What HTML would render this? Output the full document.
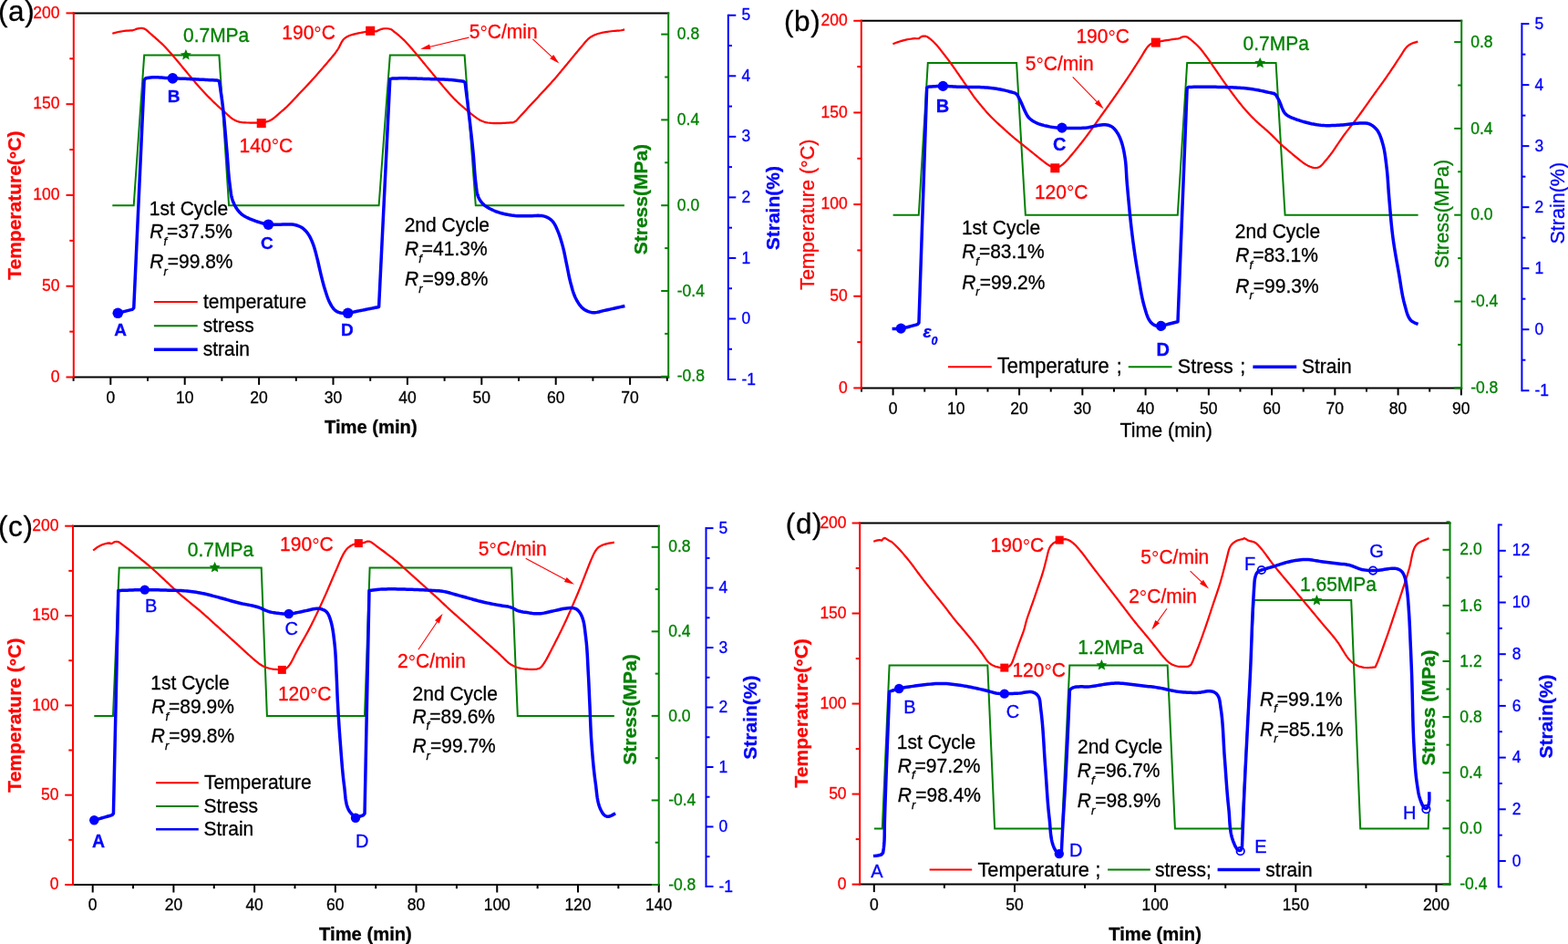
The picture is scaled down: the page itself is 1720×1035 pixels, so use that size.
<!DOCTYPE html>
<html><head><meta charset="utf-8"><title>Shape memory cycles</title>
<style>html,body{margin:0;padding:0;background:#fff;}svg{display:block;}text{font-family:"Liberation Sans", Arial, sans-serif;}</style>
</head><body>
<svg width="1720" height="1035" viewBox="0 0 1720 1035">
<rect width="1720" height="1035" fill="#fff"/>
<line x1="80.8" y1="14.4" x2="733.2" y2="14.4" stroke="#000000" stroke-width="2" stroke-linecap="square"/>
<line x1="80.8" y1="413.5" x2="733.2" y2="413.5" stroke="#000000" stroke-width="2" stroke-linecap="square"/>
<line x1="80.6" y1="413.5" x2="80.6" y2="417.8" stroke="#000000" stroke-width="2" stroke-linecap="butt"/>
<line x1="121.3" y1="413.5" x2="121.3" y2="421.9" stroke="#000000" stroke-width="2" stroke-linecap="butt"/>
<line x1="162" y1="413.5" x2="162" y2="417.8" stroke="#000000" stroke-width="2" stroke-linecap="butt"/>
<line x1="202.7" y1="413.5" x2="202.7" y2="421.9" stroke="#000000" stroke-width="2" stroke-linecap="butt"/>
<line x1="243.4" y1="413.5" x2="243.4" y2="417.8" stroke="#000000" stroke-width="2" stroke-linecap="butt"/>
<line x1="284.1" y1="413.5" x2="284.1" y2="421.9" stroke="#000000" stroke-width="2" stroke-linecap="butt"/>
<line x1="324.8" y1="413.5" x2="324.8" y2="417.8" stroke="#000000" stroke-width="2" stroke-linecap="butt"/>
<line x1="365.5" y1="413.5" x2="365.5" y2="421.9" stroke="#000000" stroke-width="2" stroke-linecap="butt"/>
<line x1="406.2" y1="413.5" x2="406.2" y2="417.8" stroke="#000000" stroke-width="2" stroke-linecap="butt"/>
<line x1="446.9" y1="413.5" x2="446.9" y2="421.9" stroke="#000000" stroke-width="2" stroke-linecap="butt"/>
<line x1="487.6" y1="413.5" x2="487.6" y2="417.8" stroke="#000000" stroke-width="2" stroke-linecap="butt"/>
<line x1="528.3" y1="413.5" x2="528.3" y2="421.9" stroke="#000000" stroke-width="2" stroke-linecap="butt"/>
<line x1="569" y1="413.5" x2="569" y2="417.8" stroke="#000000" stroke-width="2" stroke-linecap="butt"/>
<line x1="609.7" y1="413.5" x2="609.7" y2="421.9" stroke="#000000" stroke-width="2" stroke-linecap="butt"/>
<line x1="650.4" y1="413.5" x2="650.4" y2="417.8" stroke="#000000" stroke-width="2" stroke-linecap="butt"/>
<line x1="691.1" y1="413.5" x2="691.1" y2="421.9" stroke="#000000" stroke-width="2" stroke-linecap="butt"/>
<line x1="731.8" y1="413.5" x2="731.8" y2="417.8" stroke="#000000" stroke-width="2" stroke-linecap="butt"/>
<text x="121.3" y="441.5" font-size="17.5" fill="#000000" font-weight="normal" font-style="normal" text-anchor="middle" stroke="#000000" stroke-width="0.3">0</text>
<text x="202.7" y="441.5" font-size="17.5" fill="#000000" font-weight="normal" font-style="normal" text-anchor="middle" stroke="#000000" stroke-width="0.3">10</text>
<text x="284.1" y="441.5" font-size="17.5" fill="#000000" font-weight="normal" font-style="normal" text-anchor="middle" stroke="#000000" stroke-width="0.3">20</text>
<text x="365.5" y="441.5" font-size="17.5" fill="#000000" font-weight="normal" font-style="normal" text-anchor="middle" stroke="#000000" stroke-width="0.3">30</text>
<text x="446.9" y="441.5" font-size="17.5" fill="#000000" font-weight="normal" font-style="normal" text-anchor="middle" stroke="#000000" stroke-width="0.3">40</text>
<text x="528.3" y="441.5" font-size="17.5" fill="#000000" font-weight="normal" font-style="normal" text-anchor="middle" stroke="#000000" stroke-width="0.3">50</text>
<text x="609.7" y="441.5" font-size="17.5" fill="#000000" font-weight="normal" font-style="normal" text-anchor="middle" stroke="#000000" stroke-width="0.3">60</text>
<text x="691.1" y="441.5" font-size="17.5" fill="#000000" font-weight="normal" font-style="normal" text-anchor="middle" stroke="#000000" stroke-width="0.3">70</text>
<text x="406.8" y="475.3" font-size="20.2" fill="#000000" font-weight="bold" font-style="normal" text-anchor="middle" stroke="#000000" stroke-width="0.3">Time (min)</text>
<line x1="80.8" y1="14.4" x2="80.8" y2="413.5" stroke="#ff0000" stroke-width="2" stroke-linecap="square"/>
<line x1="80.8" y1="413.5" x2="72.5" y2="413.5" stroke="#ff0000" stroke-width="2" stroke-linecap="butt"/>
<line x1="80.8" y1="363.61" x2="76.3" y2="363.61" stroke="#ff0000" stroke-width="2" stroke-linecap="butt"/>
<line x1="80.8" y1="313.73" x2="72.5" y2="313.73" stroke="#ff0000" stroke-width="2" stroke-linecap="butt"/>
<line x1="80.8" y1="263.84" x2="76.3" y2="263.84" stroke="#ff0000" stroke-width="2" stroke-linecap="butt"/>
<line x1="80.8" y1="213.95" x2="72.5" y2="213.95" stroke="#ff0000" stroke-width="2" stroke-linecap="butt"/>
<line x1="80.8" y1="164.06" x2="76.3" y2="164.06" stroke="#ff0000" stroke-width="2" stroke-linecap="butt"/>
<line x1="80.8" y1="114.18" x2="72.5" y2="114.18" stroke="#ff0000" stroke-width="2" stroke-linecap="butt"/>
<line x1="80.8" y1="64.29" x2="76.3" y2="64.29" stroke="#ff0000" stroke-width="2" stroke-linecap="butt"/>
<line x1="80.8" y1="14.4" x2="72.5" y2="14.4" stroke="#ff0000" stroke-width="2" stroke-linecap="butt"/>
<text x="65.5" y="418.7" font-size="17.5" fill="#ff0000" font-weight="normal" font-style="normal" text-anchor="end" stroke="#ff0000" stroke-width="0.3">0</text>
<text x="65.5" y="318.93" font-size="17.5" fill="#ff0000" font-weight="normal" font-style="normal" text-anchor="end" stroke="#ff0000" stroke-width="0.3">50</text>
<text x="65.5" y="219.15" font-size="17.5" fill="#ff0000" font-weight="normal" font-style="normal" text-anchor="end" stroke="#ff0000" stroke-width="0.3">100</text>
<text x="65.5" y="119.38" font-size="17.5" fill="#ff0000" font-weight="normal" font-style="normal" text-anchor="end" stroke="#ff0000" stroke-width="0.3">150</text>
<text x="65.5" y="19.6" font-size="17.5" fill="#ff0000" font-weight="normal" font-style="normal" text-anchor="end" stroke="#ff0000" stroke-width="0.3">200</text>
<text transform="translate(23.2,225.2) rotate(-90)" x="0" y="0" font-size="21" fill="#ff0000" font-weight="bold" text-anchor="middle" stroke="#ff0000" stroke-width="0.3">Temperature(<tspan dy="1.7">&#176;</tspan><tspan dy="-1.7">C)</tspan></text>
<line x1="733.2" y1="14.4" x2="733.2" y2="413.5" stroke="#008000" stroke-width="2" stroke-linecap="square"/>
<line x1="733.2" y1="412.8" x2="725.2" y2="412.8" stroke="#008000" stroke-width="2" stroke-linecap="butt"/>
<line x1="733.2" y1="365.9" x2="729.2" y2="365.9" stroke="#008000" stroke-width="2" stroke-linecap="butt"/>
<line x1="733.2" y1="319" x2="725.2" y2="319" stroke="#008000" stroke-width="2" stroke-linecap="butt"/>
<line x1="733.2" y1="272.1" x2="729.2" y2="272.1" stroke="#008000" stroke-width="2" stroke-linecap="butt"/>
<line x1="733.2" y1="225.2" x2="725.2" y2="225.2" stroke="#008000" stroke-width="2" stroke-linecap="butt"/>
<line x1="733.2" y1="178.3" x2="729.2" y2="178.3" stroke="#008000" stroke-width="2" stroke-linecap="butt"/>
<line x1="733.2" y1="131.4" x2="725.2" y2="131.4" stroke="#008000" stroke-width="2" stroke-linecap="butt"/>
<line x1="733.2" y1="84.5" x2="729.2" y2="84.5" stroke="#008000" stroke-width="2" stroke-linecap="butt"/>
<line x1="733.2" y1="37.6" x2="725.2" y2="37.6" stroke="#008000" stroke-width="2" stroke-linecap="butt"/>
<text x="742.8" y="43.2" font-size="17.5" fill="#008000" font-weight="normal" font-style="normal" text-anchor="start" stroke="#008000" stroke-width="0.3">0.8</text>
<text x="742.8" y="137" font-size="17.5" fill="#008000" font-weight="normal" font-style="normal" text-anchor="start" stroke="#008000" stroke-width="0.3">0.4</text>
<text x="742.8" y="230.8" font-size="17.5" fill="#008000" font-weight="normal" font-style="normal" text-anchor="start" stroke="#008000" stroke-width="0.3">0.0</text>
<text x="742.8" y="324.6" font-size="17.5" fill="#008000" font-weight="normal" font-style="normal" text-anchor="start" stroke="#008000" stroke-width="0.3">-0.4</text>
<text x="742.8" y="418.4" font-size="17.5" fill="#008000" font-weight="normal" font-style="normal" text-anchor="start" stroke="#008000" stroke-width="0.3">-0.8</text>
<text transform="translate(709.6,218.6) rotate(-90)" x="0" y="0" font-size="21" fill="#008000" font-weight="bold" text-anchor="middle" stroke="#008000" stroke-width="0.3">Stress(MPa)</text>
<line x1="798.8" y1="16.75" x2="798.8" y2="416.05" stroke="#0000ff" stroke-width="2" stroke-linecap="square"/>
<line x1="798.8" y1="416.05" x2="807.3" y2="416.05" stroke="#0000ff" stroke-width="2" stroke-linecap="butt"/>
<line x1="798.8" y1="382.77" x2="803" y2="382.77" stroke="#0000ff" stroke-width="2" stroke-linecap="butt"/>
<line x1="798.8" y1="349.5" x2="807.3" y2="349.5" stroke="#0000ff" stroke-width="2" stroke-linecap="butt"/>
<line x1="798.8" y1="316.23" x2="803" y2="316.23" stroke="#0000ff" stroke-width="2" stroke-linecap="butt"/>
<line x1="798.8" y1="282.95" x2="807.3" y2="282.95" stroke="#0000ff" stroke-width="2" stroke-linecap="butt"/>
<line x1="798.8" y1="249.68" x2="803" y2="249.68" stroke="#0000ff" stroke-width="2" stroke-linecap="butt"/>
<line x1="798.8" y1="216.4" x2="807.3" y2="216.4" stroke="#0000ff" stroke-width="2" stroke-linecap="butt"/>
<line x1="798.8" y1="183.12" x2="803" y2="183.12" stroke="#0000ff" stroke-width="2" stroke-linecap="butt"/>
<line x1="798.8" y1="149.85" x2="807.3" y2="149.85" stroke="#0000ff" stroke-width="2" stroke-linecap="butt"/>
<line x1="798.8" y1="116.58" x2="803" y2="116.58" stroke="#0000ff" stroke-width="2" stroke-linecap="butt"/>
<line x1="798.8" y1="83.3" x2="807.3" y2="83.3" stroke="#0000ff" stroke-width="2" stroke-linecap="butt"/>
<line x1="798.8" y1="50.03" x2="803" y2="50.03" stroke="#0000ff" stroke-width="2" stroke-linecap="butt"/>
<line x1="798.8" y1="16.75" x2="807.3" y2="16.75" stroke="#0000ff" stroke-width="2" stroke-linecap="butt"/>
<text x="813.5" y="421.65" font-size="17.5" fill="#0000ff" font-weight="normal" font-style="normal" text-anchor="start" stroke="#0000ff" stroke-width="0.3">-1</text>
<text x="813.5" y="355.1" font-size="17.5" fill="#0000ff" font-weight="normal" font-style="normal" text-anchor="start" stroke="#0000ff" stroke-width="0.3">0</text>
<text x="813.5" y="288.55" font-size="17.5" fill="#0000ff" font-weight="normal" font-style="normal" text-anchor="start" stroke="#0000ff" stroke-width="0.3">1</text>
<text x="813.5" y="222" font-size="17.5" fill="#0000ff" font-weight="normal" font-style="normal" text-anchor="start" stroke="#0000ff" stroke-width="0.3">2</text>
<text x="813.5" y="155.45" font-size="17.5" fill="#0000ff" font-weight="normal" font-style="normal" text-anchor="start" stroke="#0000ff" stroke-width="0.3">3</text>
<text x="813.5" y="88.9" font-size="17.5" fill="#0000ff" font-weight="normal" font-style="normal" text-anchor="start" stroke="#0000ff" stroke-width="0.3">4</text>
<text x="813.5" y="22.35" font-size="17.5" fill="#0000ff" font-weight="normal" font-style="normal" text-anchor="start" stroke="#0000ff" stroke-width="0.3">5</text>
<text transform="translate(854.6,228.2) rotate(-90)" x="0" y="0" font-size="21" fill="#0000ff" font-weight="bold" text-anchor="middle" stroke="#0000ff" stroke-width="0.3">Strain(%)</text>
<text x="-2" y="23.2" font-size="31.5" fill="#000000" font-weight="normal" font-style="normal" text-anchor="start" letter-spacing="0.6" stroke="#000000" stroke-width="0.3">(a)</text>
<polyline points="123.3,225.2 146.7,225.2 158.2,60.6 240.4,60.6 251.1,225.2 415.6,225.2 427.8,60.6 509.6,60.6 521.8,225.2 684.9,225.2" fill="none" stroke="#008000" stroke-width="2" stroke-linejoin="miter" stroke-miterlimit="10"/>
<path d="M123.3,36.7 L125.53,36.11 L127.76,35.52 L130,35 L132.22,34.59 L134.44,34.24 L136.68,33.93 L138.84,33.7 L140.92,33.54 L143.02,33.4 L145.48,33.29 L147.86,32.52 L150.04,31.62 L152.54,31.06 L155.36,30.77 L157.83,31.32 L160,32.4 L162.01,34.16 L163.39,35.37 L164.95,36.74 L166.55,38.15 L168.15,39.55 L169.74,40.94 L171.31,42.32 L172.87,43.69 L174.43,45.07 L175.96,46.46 L177.47,47.88 L178.95,49.31 L180.39,50.77 L181.8,52.24 L183.19,53.73 L184.56,55.23 L185.91,56.74 L187.26,58.27 L188.6,59.8 L189.92,61.33 L191.24,62.86 L192.55,64.4 L193.85,65.93 L195.15,67.48 L196.43,69.02 L197.71,70.57 L198.99,72.12 L200.28,73.68 L201.56,75.23 L202.84,76.77 L204.13,78.32 L205.41,79.87 L206.69,81.42 L207.97,82.97 L209.26,84.52 L210.55,86.06 L211.85,87.6 L213.16,89.13 L214.47,90.66 L215.8,92.19 L217.13,93.71 L218.48,95.22 L219.83,96.73 L221.18,98.24 L222.55,99.73 L223.93,101.22 L225.32,102.7 L226.73,104.18 L228.15,105.65 L229.59,107.11 L231.03,108.57 L232.49,110.01 L233.95,111.45 L235.43,112.88 L236.92,114.3 L238.43,115.71 L239.96,117.11 L241.5,118.51 L243.04,119.89 L244.6,121.27 L246.16,122.66 L247.72,124.05 L249.29,125.46 L250.86,126.88 L252.45,128.29 L254.1,129.62 L255.83,130.82 L257.66,131.85 L259.58,132.69 L261.57,133.34 L263.6,133.81 L265.66,134.13 L267.72,134.32 L269.8,134.43 L271.89,134.49 L273.99,134.54 L276.12,134.59 L278.25,134.63 L280.39,134.65 L282.54,134.63 L284.71,134.55 L286.91,134.4 L289.13,134.14 L291.34,133.75 L293.46,133.18 L295.45,132.43 L297.31,131.52 L299.05,130.45 L300.7,129.25 L302.27,127.96 L303.79,126.6 L305.31,125.23 L306.85,123.86 L308.42,122.52 L310.02,121.18 L311.6,119.83 L313.15,118.44 L314.68,117.01 L316.16,115.54 L317.63,114.04 L319.07,112.52 L320.51,111 L321.94,109.46 L323.37,107.93 L324.81,106.4 L326.26,104.88 L327.71,103.36 L329.17,101.84 L330.62,100.32 L332.07,98.79 L333.51,97.27 L334.95,95.74 L336.36,94.23 L337.76,92.72 L339.15,91.21 L340.52,89.71 L341.89,88.21 L343.26,86.7 L344.62,85.19 L345.97,83.67 L347.33,82.15 L348.69,80.61 L350.05,79.07 L351.42,77.52 L352.78,75.96 L354.13,74.4 L355.48,72.83 L356.83,71.26 L358.17,69.68 L359.5,68.1 L360.84,66.53 L362.17,64.95 L363.51,63.37 L364.83,61.79 L366.14,60.19 L367.43,58.58 L368.67,56.93 L369.86,55.24 L370.97,53.5 L371.99,51.68 L372.92,49.81 L373.83,47.92 L374.8,46.07 L375.93,44.32 L377.29,42.75 L378.91,41.38 L380.75,40.23 L382.73,39.29 L384.78,38.52 L386.86,37.89 L388.97,37.35 L391.08,36.88 L393.17,36.43 L395.23,36.01 L397.25,35.6 L399.24,35.21 L401.18,34.84 L402.98,34.5 L404.46,34.23 L407.47,34.04 L410.02,34.31 L412.86,34.44 L415.02,33.22 L417.47,32.22 L419.49,31.62 L421.9,31.25 L424.37,31.25 L426.53,31.52 L429.1,32.2 L431.03,33.73 L432.36,34.78 L433.87,35.97 L435.44,37.21 L437,38.47 L438.55,39.76 L440.07,41.09 L441.56,42.45 L443.01,43.85 L444.43,45.29 L445.82,46.76 L447.19,48.25 L448.54,49.76 L449.88,51.28 L451.21,52.81 L452.53,54.33 L453.85,55.86 L455.16,57.39 L456.46,58.93 L457.75,60.47 L459.04,62.02 L460.32,63.57 L461.6,65.12 L462.88,66.67 L464.16,68.23 L465.45,69.78 L466.74,71.33 L468.02,72.89 L469.31,74.44 L470.6,76 L471.89,77.56 L473.18,79.11 L474.46,80.67 L475.75,82.22 L477.04,83.77 L478.32,85.33 L479.6,86.88 L480.88,88.43 L482.17,89.98 L483.45,91.53 L484.74,93.07 L486.04,94.6 L487.35,96.13 L488.67,97.66 L489.99,99.18 L491.31,100.7 L492.65,102.21 L493.99,103.72 L495.34,105.21 L496.72,106.69 L498.12,108.15 L499.56,109.6 L501.02,111.03 L502.53,112.45 L504.05,113.86 L505.6,115.24 L507.16,116.61 L508.74,117.98 L510.32,119.34 L511.93,120.7 L513.54,122.06 L515.17,123.42 L516.81,124.77 L518.47,126.09 L520.14,127.38 L521.84,128.63 L523.54,129.81 L525.27,130.93 L527.04,131.94 L528.88,132.81 L530.8,133.53 L532.8,134.07 L534.86,134.48 L536.95,134.76 L539.05,134.96 L541.17,135.09 L543.29,135.16 L545.42,135.17 L547.55,135.13 L549.67,135.06 L551.79,134.96 L553.89,134.85 L555.95,134.72 L557.98,134.58 L559.94,134.43 L561.76,134.28 L563.25,134.15 L566.24,132.53 L567.45,131.11 L568.88,129.48 L570.33,127.87 L571.77,126.29 L573.2,124.74 L574.61,123.2 L576.02,121.67 L577.43,120.14 L578.85,118.61 L580.26,117.08 L581.67,115.55 L583.09,114.03 L584.5,112.5 L585.92,110.97 L587.35,109.44 L588.77,107.91 L590.2,106.39 L591.62,104.86 L593.05,103.33 L594.47,101.8 L595.9,100.26 L597.32,98.72 L598.75,97.17 L600.19,95.61 L601.62,94.06 L603.05,92.5 L604.47,90.93 L605.89,89.36 L607.29,87.78 L608.68,86.2 L610.06,84.61 L611.42,83.01 L612.78,81.4 L614.12,79.79 L615.46,78.17 L616.79,76.56 L618.13,74.94 L619.46,73.32 L620.8,71.7 L622.13,70.09 L623.47,68.48 L624.8,66.87 L626.13,65.26 L627.46,63.64 L628.8,62.03 L630.13,60.42 L631.46,58.82 L632.78,57.22 L634.1,55.64 L635.41,54.07 L636.72,52.5 L638.03,50.93 L639.36,49.34 L640.7,47.72 L642.07,46.08 L643.49,44.47 L644.98,42.96 L646.56,41.61 L648.24,40.43 L650,39.39 L651.85,38.49 L653.79,37.7 L655.82,37.02 L657.9,36.45 L660.02,35.95 L662.15,35.52 L664.28,35.13 L666.39,34.79 L668.5,34.49 L670.61,34.23 L672.74,34.01 L674.9,33.83 L677.11,33.69 L679.35,33.53 L681.51,33.25 L683.31,32.84 L685.1,32.2" fill="none" stroke="#ff0000" stroke-width="2.2" stroke-linejoin="round" stroke-linecap="butt"/>
<path d="M128,343.6 L130.12,343.07 L131.95,342.61 L133.91,342.12 L135.87,341.62 L137.84,341.13 L139.81,340.63 L141.78,340.14 L143.69,339.66 L145.34,339.24 L146.76,337.52 L146.84,335.84 L146.93,333.89 L147.02,331.89 L147.11,329.89 L147.2,327.88 L147.29,325.88 L147.38,323.88 L147.48,321.87 L147.57,319.87 L147.66,317.87 L147.75,315.86 L147.84,313.86 L147.93,311.86 L148.02,309.85 L148.11,307.85 L148.21,305.85 L148.3,303.84 L148.39,301.84 L148.48,299.84 L148.57,297.83 L148.66,295.83 L148.75,293.83 L148.84,291.83 L148.94,289.82 L149.03,287.82 L149.12,285.82 L149.21,283.81 L149.3,281.81 L149.39,279.81 L149.48,277.8 L149.57,275.8 L149.67,273.8 L149.76,271.79 L149.85,269.79 L149.94,267.79 L150.03,265.78 L150.12,263.78 L150.21,261.78 L150.31,259.77 L150.4,257.77 L150.49,255.77 L150.58,253.77 L150.67,251.76 L150.76,249.76 L150.85,247.76 L150.94,245.75 L151.04,243.75 L151.13,241.75 L151.22,239.74 L151.31,237.74 L151.4,235.74 L151.49,233.73 L151.58,231.73 L151.67,229.73 L151.77,227.72 L151.86,225.72 L151.95,223.72 L152.04,221.71 L152.13,219.71 L152.22,217.71 L152.31,215.7 L152.4,213.7 L152.5,211.7 L152.59,209.7 L152.68,207.69 L152.77,205.69 L152.86,203.69 L152.95,201.68 L153.04,199.68 L153.13,197.68 L153.23,195.67 L153.32,193.67 L153.41,191.67 L153.5,189.66 L153.59,187.66 L153.68,185.66 L153.77,183.65 L153.86,181.65 L153.96,179.65 L154.05,177.64 L154.14,175.64 L154.23,173.64 L154.32,171.63 L154.41,169.63 L154.5,167.63 L154.59,165.63 L154.69,163.62 L154.78,161.62 L154.87,159.62 L154.96,157.61 L155.05,155.61 L155.14,153.61 L155.23,151.6 L155.32,149.6 L155.42,147.6 L155.51,145.59 L155.6,143.59 L155.69,141.59 L155.78,139.58 L155.87,137.58 L155.96,135.58 L156.06,133.57 L156.15,131.57 L156.24,129.57 L156.33,127.57 L156.42,125.56 L156.51,123.56 L156.6,121.56 L156.69,119.55 L156.79,117.55 L156.88,115.55 L156.97,113.54 L157.06,111.54 L157.15,109.54 L157.24,107.53 L157.33,105.53 L157.42,103.53 L157.52,101.52 L157.61,99.52 L157.7,97.52 L157.79,95.51 L157.88,93.51 L157.97,91.51 L158.06,89.56 L158.14,87.88 L159.62,85.98 L161.3,85.54 L163.23,85.2 L165.21,84.97 L167.2,84.84 L169.2,84.78 L171.21,84.79 L173.23,84.86 L175.25,84.96 L177.27,85.1 L179.3,85.25 L181.32,85.41 L183.35,85.57 L185.37,85.7 L187.39,85.81 L189.4,85.89 L191.4,85.95 L193.4,86.01 L195.4,86.07 L197.4,86.14 L199.4,86.21 L201.41,86.29 L203.41,86.37 L205.41,86.45 L207.41,86.54 L209.41,86.64 L211.41,86.73 L213.41,86.83 L215.4,86.93 L217.4,87.03 L219.4,87.14 L221.4,87.24 L223.4,87.35 L225.4,87.45 L227.4,87.56 L229.4,87.66 L231.4,87.76 L233.4,87.86 L235.4,87.96 L237.35,88.06 L239.02,88.14 L240.6,89.6 L240.85,91.31 L241.13,93.29 L241.43,95.32 L241.73,97.35 L242.03,99.39 L242.33,101.42 L242.63,103.46 L242.92,105.49 L243.21,107.53 L243.49,109.56 L243.76,111.6 L244.02,113.64 L244.27,115.67 L244.51,117.69 L244.74,119.69 L244.95,121.68 L245.16,123.67 L245.37,125.67 L245.57,127.66 L245.76,129.66 L245.95,131.65 L246.14,133.65 L246.32,135.64 L246.5,137.64 L246.68,139.64 L246.85,141.63 L247.02,143.63 L247.19,145.63 L247.36,147.62 L247.53,149.62 L247.7,151.62 L247.87,153.62 L248.03,155.62 L248.2,157.61 L248.38,159.61 L248.55,161.61 L248.72,163.61 L248.9,165.62 L249.07,167.64 L249.24,169.68 L249.4,171.72 L249.55,173.76 L249.7,175.8 L249.85,177.84 L249.99,179.88 L250.14,181.92 L250.29,183.97 L250.44,186.01 L250.6,188.05 L250.77,190.08 L250.95,192.12 L251.14,194.16 L251.35,196.19 L251.57,198.23 L251.81,200.26 L252.07,202.28 L252.33,204.3 L252.58,206.31 L252.83,208.32 L253.09,210.33 L253.38,212.34 L253.73,214.33 L254.16,216.3 L254.67,218.24 L255.31,220.16 L256.07,222.09 L256.95,224.02 L257.94,225.93 L259.02,227.78 L260.22,229.57 L261.51,231.27 L262.92,232.86 L264.44,234.31 L266.04,235.61 L267.73,236.76 L269.51,237.79 L271.35,238.71 L273.24,239.56 L275.16,240.35 L277.1,241.1 L279.05,241.84 L281.02,242.56 L283.02,243.27 L285.05,243.93 L287.1,244.53 L289.17,245.07 L291.25,245.53 L293.34,245.89 L295.43,246.16 L297.5,246.31 L299.58,246.36 L301.66,246.34 L303.75,246.28 L305.83,246.21 L307.91,246.14 L309.98,246.1 L312.04,246.04 L314.08,245.98 L316.12,245.92 L318.16,245.92 L320.19,246.03 L322.22,246.29 L324.26,246.71 L326.28,247.29 L328.25,248.03 L330.14,248.96 L331.91,250.09 L333.55,251.4 L335.07,252.87 L336.46,254.45 L337.73,256.12 L338.88,257.85 L339.92,259.64 L340.85,261.48 L341.72,263.37 L342.52,265.28 L343.27,267.19 L343.97,269.11 L344.61,271.04 L345.21,272.98 L345.76,274.93 L346.29,276.9 L346.79,278.86 L347.3,280.83 L347.8,282.81 L348.29,284.78 L348.77,286.77 L349.23,288.76 L349.68,290.75 L350.13,292.74 L350.57,294.74 L351.02,296.73 L351.49,298.72 L351.96,300.7 L352.45,302.68 L352.94,304.64 L353.43,306.61 L353.94,308.57 L354.45,310.53 L354.98,312.48 L355.53,314.43 L356.11,316.37 L356.71,318.32 L357.34,320.28 L357.98,322.24 L358.64,324.21 L359.33,326.16 L360.07,328.09 L360.88,330 L361.77,331.88 L362.75,333.75 L363.82,335.6 L365.01,337.39 L366.36,339.03 L367.89,340.43 L369.6,341.55 L371.46,342.39 L373.42,342.97 L375.43,343.31 L377.46,343.42 L379.37,343.39 L381.6,343.3 L383.76,342.87 L385.61,342.5 L387.6,342.1 L389.6,341.7 L391.6,341.3 L393.6,340.9 L395.6,340.5 L397.6,340.1 L399.6,339.7 L401.6,339.3 L403.6,338.9 L405.6,338.5 L407.6,338.1 L409.6,337.7 L411.59,337.3 L413.44,336.93 L415.6,336.5 L415.71,334.35 L415.8,332.49 L415.89,330.5 L415.99,328.51 L416.09,326.51 L416.19,324.51 L416.28,322.51 L416.38,320.51 L416.48,318.51 L416.58,316.52 L416.67,314.52 L416.77,312.52 L416.87,310.52 L416.97,308.52 L417.06,306.52 L417.16,304.53 L417.26,302.53 L417.36,300.53 L417.45,298.53 L417.55,296.53 L417.65,294.53 L417.75,292.54 L417.84,290.54 L417.94,288.54 L418.04,286.54 L418.14,284.54 L418.24,282.54 L418.33,280.54 L418.43,278.55 L418.53,276.55 L418.63,274.55 L418.72,272.55 L418.82,270.55 L418.92,268.55 L419.02,266.56 L419.11,264.56 L419.21,262.56 L419.31,260.56 L419.41,258.56 L419.5,256.56 L419.6,254.57 L419.7,252.57 L419.8,250.57 L419.89,248.57 L419.99,246.57 L420.09,244.57 L420.19,242.58 L420.28,240.58 L420.38,238.58 L420.48,236.58 L420.58,234.58 L420.68,232.58 L420.77,230.58 L420.87,228.59 L420.97,226.59 L421.07,224.59 L421.16,222.59 L421.26,220.59 L421.36,218.59 L421.46,216.6 L421.55,214.6 L421.65,212.6 L421.75,210.6 L421.85,208.6 L421.94,206.6 L422.04,204.61 L422.14,202.61 L422.24,200.61 L422.33,198.61 L422.43,196.61 L422.53,194.61 L422.63,192.62 L422.72,190.62 L422.82,188.62 L422.92,186.62 L423.02,184.62 L423.12,182.62 L423.21,180.62 L423.31,178.63 L423.41,176.63 L423.51,174.63 L423.6,172.63 L423.7,170.63 L423.8,168.63 L423.9,166.64 L423.99,164.64 L424.09,162.64 L424.19,160.64 L424.29,158.64 L424.38,156.64 L424.48,154.65 L424.58,152.65 L424.68,150.65 L424.77,148.65 L424.87,146.65 L424.97,144.65 L425.07,142.66 L425.16,140.66 L425.26,138.66 L425.36,136.66 L425.46,134.66 L425.56,132.66 L425.65,130.66 L425.75,128.67 L425.85,126.67 L425.95,124.67 L426.04,122.67 L426.14,120.67 L426.24,118.67 L426.34,116.68 L426.43,114.68 L426.53,112.68 L426.63,110.68 L426.73,108.68 L426.82,106.68 L426.92,104.69 L427.02,102.69 L427.12,100.69 L427.21,98.69 L427.31,96.69 L427.41,94.69 L427.51,92.7 L427.6,90.71 L427.69,88.85 L427.8,86.7 L429.99,86.12 L431.88,86.04 L433.9,85.96 L435.93,85.89 L437.97,85.84 L440.01,85.81 L442.07,85.81 L444.13,85.82 L446.2,85.85 L448.27,85.89 L450.33,85.93 L452.4,85.99 L454.47,86.05 L456.53,86.12 L458.6,86.19 L460.67,86.26 L462.73,86.33 L464.78,86.4 L466.8,86.46 L468.81,86.52 L470.82,86.57 L472.83,86.63 L474.84,86.69 L476.85,86.74 L478.85,86.81 L480.86,86.87 L482.87,86.94 L484.88,87.03 L486.88,87.12 L488.89,87.22 L490.89,87.33 L492.9,87.46 L494.91,87.61 L496.92,87.79 L498.93,87.99 L500.95,88.21 L502.96,88.45 L504.97,88.69 L506.93,88.93 L508.61,89.14 L510.17,90.7 L510.38,92.4 L510.63,94.37 L510.88,96.4 L511.14,98.43 L511.39,100.46 L511.64,102.48 L511.89,104.51 L512.15,106.54 L512.4,108.57 L512.64,110.6 L512.89,112.63 L513.14,114.65 L513.38,116.68 L513.62,118.69 L513.85,120.69 L514.09,122.69 L514.32,124.68 L514.56,126.68 L514.8,128.67 L515.03,130.67 L515.26,132.66 L515.5,134.66 L515.73,136.65 L515.96,138.65 L516.19,140.64 L516.42,142.64 L516.65,144.63 L516.87,146.63 L517.09,148.62 L517.32,150.62 L517.54,152.62 L517.75,154.61 L517.97,156.61 L518.18,158.61 L518.39,160.61 L518.59,162.6 L518.8,164.61 L518.99,166.63 L519.18,168.66 L519.36,170.69 L519.53,172.73 L519.69,174.77 L519.84,176.81 L519.99,178.85 L520.14,180.9 L520.29,182.94 L520.44,184.98 L520.59,187.02 L520.75,189.06 L520.92,191.1 L521.1,193.13 L521.29,195.17 L521.49,197.21 L521.71,199.24 L521.95,201.27 L522.2,203.32 L522.45,205.38 L522.71,207.45 L523.01,209.52 L523.38,211.58 L523.87,213.61 L524.54,215.63 L525.44,217.64 L526.56,219.59 L527.86,221.42 L529.3,223.11 L530.88,224.6 L532.54,225.9 L534.25,227.04 L536,228.08 L537.79,229.03 L539.61,229.93 L541.47,230.75 L543.35,231.52 L545.25,232.24 L547.17,232.89 L549.11,233.49 L551.07,234.03 L553.05,234.51 L555.04,234.94 L557.04,235.33 L559.05,235.67 L561.06,235.98 L563.09,236.24 L565.14,236.47 L567.23,236.65 L569.35,236.76 L571.47,236.81 L573.61,236.81 L575.74,236.8 L577.86,236.8 L579.95,236.78 L582,236.74 L584.03,236.66 L586.05,236.54 L588.07,236.43 L590.08,236.36 L592.08,236.38 L594.06,236.54 L596.02,236.87 L597.94,237.39 L599.82,238.11 L601.63,239.03 L603.33,240.12 L604.9,241.41 L606.32,242.89 L607.58,244.56 L608.68,246.37 L609.65,248.28 L610.53,250.23 L611.37,252.17 L612.17,254.08 L612.92,255.98 L613.62,257.89 L614.29,259.82 L614.91,261.76 L615.51,263.71 L616.09,265.67 L616.65,267.64 L617.19,269.62 L617.71,271.62 L618.21,273.63 L618.67,275.65 L619.11,277.68 L619.54,279.72 L619.95,281.75 L620.36,283.79 L620.76,285.83 L621.18,287.86 L621.6,289.9 L622.02,291.92 L622.42,293.95 L622.82,295.98 L623.22,298 L623.62,300.03 L624.03,302.06 L624.46,304.08 L624.91,306.09 L625.4,308.1 L625.9,310.09 L626.43,312.07 L626.96,314.05 L627.5,316.03 L628.06,317.99 L628.67,319.95 L629.33,321.88 L630.05,323.78 L630.85,325.65 L631.74,327.5 L632.72,329.33 L633.76,331.15 L634.89,332.92 L636.11,334.62 L637.43,336.23 L638.89,337.7 L640.51,339.02 L642.31,340.18 L644.26,341.14 L646.32,341.88 L648.44,342.39 L650.59,342.65 L652.72,342.65 L654.84,342.38 L656.95,341.94 L659.05,341.4 L661.14,340.88 L663.2,340.41 L665.23,339.97 L667.25,339.53 L669.27,339.09 L671.29,338.65 L673.3,338.2 L675.32,337.75 L677.34,337.3 L679.35,336.85 L681.35,336.4 L683.23,335.98 L685.4,335.5" fill="none" stroke="#0000ff" stroke-width="3.5" stroke-linejoin="round" stroke-linecap="butt"/>
<circle cx="129.3" cy="343.3" r="5.8" fill="#0000ff"/>
<circle cx="189.4" cy="85.9" r="5.8" fill="#0000ff"/>
<circle cx="294.4" cy="246.2" r="5.8" fill="#0000ff"/>
<circle cx="381.6" cy="343.3" r="5.8" fill="#0000ff"/>
<rect x="281.7" y="130.1" width="10" height="10" fill="#ff0000"/>
<rect x="401.2" y="28.8" width="10" height="10" fill="#ff0000"/>
<polygon points="203.9,54.1 205.64,58 209.89,58.45 206.72,61.31 207.6,65.5 203.9,63.36 200.2,65.5 201.08,61.31 197.91,58.45 202.16,58" fill="#008000"/>
<text x="132" y="367.8" font-size="19" fill="#0000ff" font-weight="bold" font-style="normal" text-anchor="middle" stroke="#0000ff" stroke-width="0.3">A</text>
<text x="190.5" y="112.2" font-size="19" fill="#0000ff" font-weight="bold" font-style="normal" text-anchor="middle" stroke="#0000ff" stroke-width="0.3">B</text>
<text x="292.9" y="273.3" font-size="19" fill="#0000ff" font-weight="bold" font-style="normal" text-anchor="middle" stroke="#0000ff" stroke-width="0.3">C</text>
<text x="380.8" y="367.8" font-size="19" fill="#0000ff" font-weight="bold" font-style="normal" text-anchor="middle" stroke="#0000ff" stroke-width="0.3">D</text>
<text transform="translate(200.96,46.2) scale(1,1.05)" x="0" y="0" font-size="21" fill="#008000" font-weight="normal" font-style="normal" text-anchor="start" stroke="#008000" stroke-width="0.3">0.7MPa</text>
<text transform="translate(309.31,43.3) scale(1,1.05)" x="0" y="0" font-size="21" fill="#ff0000" font-weight="normal" font-style="normal" text-anchor="start" stroke="#ff0000" stroke-width="0.3">190<tspan dy="1.68" stroke-width="0">&#176;</tspan><tspan dy="-1.68">C</tspan></text>
<text transform="translate(262.61,166.7) scale(1,1.05)" x="0" y="0" font-size="21" fill="#ff0000" font-weight="normal" font-style="normal" text-anchor="start" stroke="#ff0000" stroke-width="0.3">140<tspan dy="1.68" stroke-width="0">&#176;</tspan><tspan dy="-1.68">C</tspan></text>
<text transform="translate(514.76,42.2) scale(1,1.05)" x="0" y="0" font-size="21" fill="#ff0000" font-weight="normal" font-style="normal" text-anchor="start" stroke="#ff0000" stroke-width="0.3">5<tspan dy="1.68" stroke-width="0">&#176;</tspan><tspan dy="-1.68">C/min</tspan></text>
<line x1="514.4" y1="41.1" x2="470.83" y2="51.48" stroke="#ff0000" stroke-width="1.1" stroke-linecap="butt"/>
<polygon points="461.1,53.8 471.13,48.43 472.47,54.07" fill="#ff0000"/>
<line x1="584.4" y1="42.9" x2="605.95" y2="62.81" stroke="#ff0000" stroke-width="1.1" stroke-linecap="butt"/>
<polygon points="613.3,69.6 603.25,64.27 607.19,60.01" fill="#ff0000"/>
<text transform="translate(163.81,235.6) scale(1,1.05)" x="0" y="0" font-size="21" fill="#000000" font-weight="normal" font-style="normal" text-anchor="start" stroke="#000000" stroke-width="0.3">1st Cycle</text>
<text transform="translate(164.26,261.1) scale(1,1.05)" x="0" y="0" font-size="21" fill="#000000" font-weight="normal" font-style="normal" text-anchor="start" stroke="#000000" stroke-width="0.3"><tspan font-style="italic">R</tspan><tspan font-style="italic" font-size="13.02" dy="7.14">f</tspan><tspan dy="-7.14">=37.5%</tspan></text>
<text transform="translate(164.26,294.4) scale(1,1.05)" x="0" y="0" font-size="21" fill="#000000" font-weight="normal" font-style="normal" text-anchor="start" stroke="#000000" stroke-width="0.3"><tspan font-style="italic">R</tspan><tspan font-style="italic" font-size="13.02" dy="7.14">r</tspan><tspan dy="-7.14">=99.8%</tspan></text>
<text transform="translate(443.66,253.8) scale(1,1.05)" x="0" y="0" font-size="21" fill="#000000" font-weight="normal" font-style="normal" text-anchor="start" stroke="#000000" stroke-width="0.3">2nd Cycle</text>
<text transform="translate(444.06,280) scale(1,1.05)" x="0" y="0" font-size="21" fill="#000000" font-weight="normal" font-style="normal" text-anchor="start" stroke="#000000" stroke-width="0.3"><tspan font-style="italic">R</tspan><tspan font-style="italic" font-size="13.02" dy="7.14">f</tspan><tspan dy="-7.14">=41.3%</tspan></text>
<text transform="translate(444.06,313.3) scale(1,1.05)" x="0" y="0" font-size="21" fill="#000000" font-weight="normal" font-style="normal" text-anchor="start" stroke="#000000" stroke-width="0.3"><tspan font-style="italic">R</tspan><tspan font-style="italic" font-size="13.02" dy="7.14">r</tspan><tspan dy="-7.14">=99.8%</tspan></text>
<line x1="168.9" y1="331.1" x2="216.7" y2="331.1" stroke="#ff0000" stroke-width="2" stroke-linecap="butt"/>
<line x1="168.9" y1="357.3" x2="216.7" y2="357.3" stroke="#008000" stroke-width="2" stroke-linecap="butt"/>
<line x1="168.9" y1="383.3" x2="216.7" y2="383.3" stroke="#0000ff" stroke-width="3.5" stroke-linecap="butt"/>
<text transform="translate(222.99,337.8) scale(1,1.05)" x="0" y="0" font-size="21" fill="#000000" font-weight="normal" font-style="normal" text-anchor="start" stroke="#000000" stroke-width="0.3">temperature</text>
<text transform="translate(222.71,364) scale(1,1.05)" x="0" y="0" font-size="21" fill="#000000" font-weight="normal" font-style="normal" text-anchor="start" stroke="#000000" stroke-width="0.3">stress</text>
<text transform="translate(222.71,390) scale(1,1.05)" x="0" y="0" font-size="21" fill="#000000" font-weight="normal" font-style="normal" text-anchor="start" stroke="#000000" stroke-width="0.3">strain</text>
<line x1="944.8" y1="22.8" x2="1603.2" y2="22.8" stroke="#000000" stroke-width="2" stroke-linecap="square"/>
<line x1="944.8" y1="425.4" x2="1603.2" y2="425.4" stroke="#000000" stroke-width="2" stroke-linecap="square"/>
<line x1="944.98" y1="425.4" x2="944.98" y2="429.6" stroke="#000000" stroke-width="2" stroke-linecap="butt"/>
<line x1="979.6" y1="425.4" x2="979.6" y2="433.4" stroke="#000000" stroke-width="2" stroke-linecap="butt"/>
<line x1="1014.23" y1="425.4" x2="1014.23" y2="429.6" stroke="#000000" stroke-width="2" stroke-linecap="butt"/>
<line x1="1048.85" y1="425.4" x2="1048.85" y2="433.4" stroke="#000000" stroke-width="2" stroke-linecap="butt"/>
<line x1="1083.47" y1="425.4" x2="1083.47" y2="429.6" stroke="#000000" stroke-width="2" stroke-linecap="butt"/>
<line x1="1118.1" y1="425.4" x2="1118.1" y2="433.4" stroke="#000000" stroke-width="2" stroke-linecap="butt"/>
<line x1="1152.72" y1="425.4" x2="1152.72" y2="429.6" stroke="#000000" stroke-width="2" stroke-linecap="butt"/>
<line x1="1187.35" y1="425.4" x2="1187.35" y2="433.4" stroke="#000000" stroke-width="2" stroke-linecap="butt"/>
<line x1="1221.97" y1="425.4" x2="1221.97" y2="429.6" stroke="#000000" stroke-width="2" stroke-linecap="butt"/>
<line x1="1256.6" y1="425.4" x2="1256.6" y2="433.4" stroke="#000000" stroke-width="2" stroke-linecap="butt"/>
<line x1="1291.22" y1="425.4" x2="1291.22" y2="429.6" stroke="#000000" stroke-width="2" stroke-linecap="butt"/>
<line x1="1325.85" y1="425.4" x2="1325.85" y2="433.4" stroke="#000000" stroke-width="2" stroke-linecap="butt"/>
<line x1="1360.47" y1="425.4" x2="1360.47" y2="429.6" stroke="#000000" stroke-width="2" stroke-linecap="butt"/>
<line x1="1395.1" y1="425.4" x2="1395.1" y2="433.4" stroke="#000000" stroke-width="2" stroke-linecap="butt"/>
<line x1="1429.72" y1="425.4" x2="1429.72" y2="429.6" stroke="#000000" stroke-width="2" stroke-linecap="butt"/>
<line x1="1464.35" y1="425.4" x2="1464.35" y2="433.4" stroke="#000000" stroke-width="2" stroke-linecap="butt"/>
<line x1="1498.97" y1="425.4" x2="1498.97" y2="429.6" stroke="#000000" stroke-width="2" stroke-linecap="butt"/>
<line x1="1533.6" y1="425.4" x2="1533.6" y2="433.4" stroke="#000000" stroke-width="2" stroke-linecap="butt"/>
<line x1="1568.22" y1="425.4" x2="1568.22" y2="429.6" stroke="#000000" stroke-width="2" stroke-linecap="butt"/>
<line x1="1602.85" y1="425.4" x2="1602.85" y2="433.4" stroke="#000000" stroke-width="2" stroke-linecap="butt"/>
<text x="979.6" y="453.9" font-size="17.5" fill="#000000" font-weight="normal" font-style="normal" text-anchor="middle" stroke="#000000" stroke-width="0.3">0</text>
<text x="1048.85" y="453.9" font-size="17.5" fill="#000000" font-weight="normal" font-style="normal" text-anchor="middle" stroke="#000000" stroke-width="0.3">10</text>
<text x="1118.1" y="453.9" font-size="17.5" fill="#000000" font-weight="normal" font-style="normal" text-anchor="middle" stroke="#000000" stroke-width="0.3">20</text>
<text x="1187.35" y="453.9" font-size="17.5" fill="#000000" font-weight="normal" font-style="normal" text-anchor="middle" stroke="#000000" stroke-width="0.3">30</text>
<text x="1256.6" y="453.9" font-size="17.5" fill="#000000" font-weight="normal" font-style="normal" text-anchor="middle" stroke="#000000" stroke-width="0.3">40</text>
<text x="1325.85" y="453.9" font-size="17.5" fill="#000000" font-weight="normal" font-style="normal" text-anchor="middle" stroke="#000000" stroke-width="0.3">50</text>
<text x="1395.1" y="453.9" font-size="17.5" fill="#000000" font-weight="normal" font-style="normal" text-anchor="middle" stroke="#000000" stroke-width="0.3">60</text>
<text x="1464.35" y="453.9" font-size="17.5" fill="#000000" font-weight="normal" font-style="normal" text-anchor="middle" stroke="#000000" stroke-width="0.3">70</text>
<text x="1533.6" y="453.9" font-size="17.5" fill="#000000" font-weight="normal" font-style="normal" text-anchor="middle" stroke="#000000" stroke-width="0.3">80</text>
<text x="1602.85" y="453.9" font-size="17.5" fill="#000000" font-weight="normal" font-style="normal" text-anchor="middle" stroke="#000000" stroke-width="0.3">90</text>
<text x="1279.15" y="479.1" font-size="21.4" fill="#000000" font-weight="normal" font-style="normal" text-anchor="middle" stroke="#000000" stroke-width="0.3">Time (min)</text>
<line x1="944.8" y1="22.8" x2="944.8" y2="425.4" stroke="#ff0000" stroke-width="2" stroke-linecap="square"/>
<line x1="944.8" y1="425.4" x2="936.3" y2="425.4" stroke="#ff0000" stroke-width="2" stroke-linecap="butt"/>
<line x1="944.8" y1="375.07" x2="940.3" y2="375.07" stroke="#ff0000" stroke-width="2" stroke-linecap="butt"/>
<line x1="944.8" y1="324.75" x2="936.3" y2="324.75" stroke="#ff0000" stroke-width="2" stroke-linecap="butt"/>
<line x1="944.8" y1="274.42" x2="940.3" y2="274.42" stroke="#ff0000" stroke-width="2" stroke-linecap="butt"/>
<line x1="944.8" y1="224.1" x2="936.3" y2="224.1" stroke="#ff0000" stroke-width="2" stroke-linecap="butt"/>
<line x1="944.8" y1="173.78" x2="940.3" y2="173.78" stroke="#ff0000" stroke-width="2" stroke-linecap="butt"/>
<line x1="944.8" y1="123.45" x2="936.3" y2="123.45" stroke="#ff0000" stroke-width="2" stroke-linecap="butt"/>
<line x1="944.8" y1="73.12" x2="940.3" y2="73.12" stroke="#ff0000" stroke-width="2" stroke-linecap="butt"/>
<line x1="944.8" y1="22.8" x2="936.3" y2="22.8" stroke="#ff0000" stroke-width="2" stroke-linecap="butt"/>
<text x="929.8" y="430.6" font-size="17.5" fill="#ff0000" font-weight="normal" font-style="normal" text-anchor="end" stroke="#ff0000" stroke-width="0.3">0</text>
<text x="929.8" y="329.95" font-size="17.5" fill="#ff0000" font-weight="normal" font-style="normal" text-anchor="end" stroke="#ff0000" stroke-width="0.3">50</text>
<text x="929.8" y="229.3" font-size="17.5" fill="#ff0000" font-weight="normal" font-style="normal" text-anchor="end" stroke="#ff0000" stroke-width="0.3">100</text>
<text x="929.8" y="128.65" font-size="17.5" fill="#ff0000" font-weight="normal" font-style="normal" text-anchor="end" stroke="#ff0000" stroke-width="0.3">150</text>
<text x="929.8" y="28" font-size="17.5" fill="#ff0000" font-weight="normal" font-style="normal" text-anchor="end" stroke="#ff0000" stroke-width="0.3">200</text>
<text transform="translate(892.8,235.2) rotate(-90)" x="0" y="0" font-size="21.5" fill="#ff0000" font-weight="normal" text-anchor="middle" stroke="#ff0000" stroke-width="0.3">Temperature (<tspan dy="1.7">&#176;</tspan><tspan dy="-1.7">C)</tspan></text>
<line x1="1603.2" y1="22.8" x2="1603.2" y2="425.4" stroke="#008000" stroke-width="2" stroke-linecap="square"/>
<line x1="1603.2" y1="425.3" x2="1595.2" y2="425.3" stroke="#008000" stroke-width="2" stroke-linecap="butt"/>
<line x1="1603.2" y1="377.9" x2="1599.2" y2="377.9" stroke="#008000" stroke-width="2" stroke-linecap="butt"/>
<line x1="1603.2" y1="330.5" x2="1595.2" y2="330.5" stroke="#008000" stroke-width="2" stroke-linecap="butt"/>
<line x1="1603.2" y1="283.1" x2="1599.2" y2="283.1" stroke="#008000" stroke-width="2" stroke-linecap="butt"/>
<line x1="1603.2" y1="235.7" x2="1595.2" y2="235.7" stroke="#008000" stroke-width="2" stroke-linecap="butt"/>
<line x1="1603.2" y1="188.3" x2="1599.2" y2="188.3" stroke="#008000" stroke-width="2" stroke-linecap="butt"/>
<line x1="1603.2" y1="140.9" x2="1595.2" y2="140.9" stroke="#008000" stroke-width="2" stroke-linecap="butt"/>
<line x1="1603.2" y1="93.5" x2="1599.2" y2="93.5" stroke="#008000" stroke-width="2" stroke-linecap="butt"/>
<line x1="1603.2" y1="46.1" x2="1595.2" y2="46.1" stroke="#008000" stroke-width="2" stroke-linecap="butt"/>
<text x="1613.2" y="51.7" font-size="17.5" fill="#008000" font-weight="normal" font-style="normal" text-anchor="start" stroke="#008000" stroke-width="0.3">0.8</text>
<text x="1613.2" y="146.5" font-size="17.5" fill="#008000" font-weight="normal" font-style="normal" text-anchor="start" stroke="#008000" stroke-width="0.3">0.4</text>
<text x="1613.2" y="241.3" font-size="17.5" fill="#008000" font-weight="normal" font-style="normal" text-anchor="start" stroke="#008000" stroke-width="0.3">0.0</text>
<text x="1613.2" y="336.1" font-size="17.5" fill="#008000" font-weight="normal" font-style="normal" text-anchor="start" stroke="#008000" stroke-width="0.3">-0.4</text>
<text x="1613.2" y="430.9" font-size="17.5" fill="#008000" font-weight="normal" font-style="normal" text-anchor="start" stroke="#008000" stroke-width="0.3">-0.8</text>
<text transform="translate(1588.6,234.5) rotate(-90)" x="0" y="0" font-size="21.5" fill="#008000" font-weight="normal" text-anchor="middle" stroke="#008000" stroke-width="0.3">Stress(MPa)</text>
<line x1="1669.4" y1="26.1" x2="1669.4" y2="428.22" stroke="#0000ff" stroke-width="2" stroke-linecap="square"/>
<line x1="1669.4" y1="428.22" x2="1677.4" y2="428.22" stroke="#0000ff" stroke-width="2" stroke-linecap="butt"/>
<line x1="1669.4" y1="394.71" x2="1673.4" y2="394.71" stroke="#0000ff" stroke-width="2" stroke-linecap="butt"/>
<line x1="1669.4" y1="361.2" x2="1677.4" y2="361.2" stroke="#0000ff" stroke-width="2" stroke-linecap="butt"/>
<line x1="1669.4" y1="327.69" x2="1673.4" y2="327.69" stroke="#0000ff" stroke-width="2" stroke-linecap="butt"/>
<line x1="1669.4" y1="294.18" x2="1677.4" y2="294.18" stroke="#0000ff" stroke-width="2" stroke-linecap="butt"/>
<line x1="1669.4" y1="260.67" x2="1673.4" y2="260.67" stroke="#0000ff" stroke-width="2" stroke-linecap="butt"/>
<line x1="1669.4" y1="227.16" x2="1677.4" y2="227.16" stroke="#0000ff" stroke-width="2" stroke-linecap="butt"/>
<line x1="1669.4" y1="193.65" x2="1673.4" y2="193.65" stroke="#0000ff" stroke-width="2" stroke-linecap="butt"/>
<line x1="1669.4" y1="160.14" x2="1677.4" y2="160.14" stroke="#0000ff" stroke-width="2" stroke-linecap="butt"/>
<line x1="1669.4" y1="126.63" x2="1673.4" y2="126.63" stroke="#0000ff" stroke-width="2" stroke-linecap="butt"/>
<line x1="1669.4" y1="93.12" x2="1677.4" y2="93.12" stroke="#0000ff" stroke-width="2" stroke-linecap="butt"/>
<line x1="1669.4" y1="59.61" x2="1673.4" y2="59.61" stroke="#0000ff" stroke-width="2" stroke-linecap="butt"/>
<line x1="1669.4" y1="26.1" x2="1677.4" y2="26.1" stroke="#0000ff" stroke-width="2" stroke-linecap="butt"/>
<text x="1683.4" y="433.82" font-size="17.5" fill="#0000ff" font-weight="normal" font-style="normal" text-anchor="start" stroke="#0000ff" stroke-width="0.3">-1</text>
<text x="1683.4" y="366.8" font-size="17.5" fill="#0000ff" font-weight="normal" font-style="normal" text-anchor="start" stroke="#0000ff" stroke-width="0.3">0</text>
<text x="1683.4" y="299.78" font-size="17.5" fill="#0000ff" font-weight="normal" font-style="normal" text-anchor="start" stroke="#0000ff" stroke-width="0.3">1</text>
<text x="1683.4" y="232.76" font-size="17.5" fill="#0000ff" font-weight="normal" font-style="normal" text-anchor="start" stroke="#0000ff" stroke-width="0.3">2</text>
<text x="1683.4" y="165.74" font-size="17.5" fill="#0000ff" font-weight="normal" font-style="normal" text-anchor="start" stroke="#0000ff" stroke-width="0.3">3</text>
<text x="1683.4" y="98.72" font-size="17.5" fill="#0000ff" font-weight="normal" font-style="normal" text-anchor="start" stroke="#0000ff" stroke-width="0.3">4</text>
<text x="1683.4" y="31.7" font-size="17.5" fill="#0000ff" font-weight="normal" font-style="normal" text-anchor="start" stroke="#0000ff" stroke-width="0.3">5</text>
<text transform="translate(1716,222.7) rotate(-90)" x="0" y="0" font-size="21.5" fill="#0000ff" font-weight="normal" text-anchor="middle" stroke="#0000ff" stroke-width="0.3">Strain(%)</text>
<text x="860" y="33.9" font-size="31.5" fill="#000000" font-weight="normal" font-style="normal" text-anchor="start" letter-spacing="0.6" stroke="#000000" stroke-width="0.3">(b)</text>
<polyline points="979.6,235.8 1007.8,235.8 1017.8,69 1115.1,69 1124.9,235.8 1291.8,235.8 1302.2,69 1399.6,69 1409.6,235.8 1555.6,235.8" fill="none" stroke="#008000" stroke-width="2" stroke-linejoin="miter" stroke-miterlimit="10"/>
<path d="M979.4,48.3 L981.28,47.57 L983.16,46.83 L985.05,46.13 L986.95,45.49 L988.86,44.89 L990.79,44.33 L992.73,43.83 L994.74,43.39 L996.84,43.02 L998.94,42.73 L1001.06,42.45 L1003.19,42.15 L1005.37,42.27 L1008.04,42.21 L1010.05,40.56 L1012.32,39.62 L1014.96,39.52 L1016.88,40.19 L1019.53,41.98 L1020.64,42.88 L1021.97,44 L1023.42,45.29 L1024.89,46.69 L1026.34,48.19 L1027.74,49.75 L1029.1,51.36 L1030.43,53 L1031.74,54.66 L1033.03,56.31 L1034.31,57.96 L1035.58,59.58 L1036.84,61.2 L1038.08,62.82 L1039.32,64.44 L1040.55,66.06 L1041.76,67.7 L1042.96,69.34 L1044.15,70.99 L1045.32,72.65 L1046.49,74.31 L1047.64,75.98 L1048.8,77.65 L1049.95,79.32 L1051.11,80.99 L1052.27,82.66 L1053.43,84.33 L1054.59,86 L1055.75,87.66 L1056.91,89.33 L1058.06,91.01 L1059.22,92.69 L1060.37,94.38 L1061.52,96.08 L1062.67,97.79 L1063.82,99.5 L1064.98,101.21 L1066.16,102.92 L1067.36,104.61 L1068.59,106.29 L1069.85,107.97 L1071.15,109.63 L1072.47,111.28 L1073.8,112.92 L1075.15,114.54 L1076.49,116.15 L1077.83,117.74 L1079.16,119.32 L1080.5,120.88 L1081.84,122.43 L1083.2,123.97 L1084.6,125.49 L1086.03,127.01 L1087.5,128.53 L1089.02,130.03 L1090.56,131.52 L1092.12,133 L1093.69,134.46 L1095.26,135.91 L1096.83,137.35 L1098.39,138.77 L1099.95,140.18 L1101.5,141.59 L1103.04,142.99 L1104.59,144.38 L1106.13,145.77 L1107.69,147.15 L1109.27,148.53 L1110.86,149.89 L1112.47,151.24 L1114.11,152.58 L1115.75,153.91 L1117.41,155.24 L1119.07,156.56 L1120.73,157.88 L1122.39,159.21 L1124.05,160.53 L1125.71,161.86 L1127.37,163.19 L1129.03,164.51 L1130.68,165.84 L1132.34,167.17 L1134,168.51 L1135.65,169.84 L1137.3,171.17 L1138.95,172.51 L1140.61,173.84 L1142.26,175.16 L1143.91,176.46 L1145.56,177.75 L1147.23,178.99 L1148.91,180.18 L1150.63,181.28 L1152.35,182.25 L1153.97,183.05 L1155.35,183.66 L1159.49,183.85 L1161.02,183.21 L1162.79,182.3 L1164.56,181.16 L1166.21,179.84 L1167.76,178.41 L1169.23,176.92 L1170.65,175.41 L1172.03,173.89 L1173.38,172.35 L1174.7,170.8 L1176.01,169.24 L1177.31,167.66 L1178.62,166.08 L1179.93,164.48 L1181.24,162.87 L1182.55,161.26 L1183.85,159.63 L1185.15,158 L1186.44,156.37 L1187.72,154.73 L1188.99,153.08 L1190.25,151.43 L1191.49,149.79 L1192.72,148.14 L1193.94,146.49 L1195.14,144.83 L1196.34,143.18 L1197.53,141.51 L1198.71,139.85 L1199.9,138.18 L1201.08,136.51 L1202.26,134.84 L1203.44,133.17 L1204.62,131.5 L1205.81,129.83 L1207,128.17 L1208.19,126.5 L1209.39,124.83 L1210.59,123.17 L1211.78,121.5 L1212.98,119.84 L1214.18,118.17 L1215.37,116.5 L1216.56,114.83 L1217.75,113.16 L1218.94,111.49 L1220.12,109.82 L1221.3,108.15 L1222.47,106.49 L1223.63,104.83 L1224.78,103.17 L1225.94,101.52 L1227.08,99.87 L1228.23,98.21 L1229.38,96.56 L1230.52,94.9 L1231.66,93.24 L1232.79,91.58 L1233.92,89.91 L1235.05,88.24 L1236.18,86.57 L1237.3,84.88 L1238.43,83.19 L1239.55,81.49 L1240.67,79.79 L1241.79,78.08 L1242.9,76.37 L1244.01,74.66 L1245.12,72.94 L1246.22,71.23 L1247.32,69.51 L1248.42,67.79 L1249.52,66.07 L1250.61,64.34 L1251.71,62.6 L1252.79,60.82 L1253.88,59.02 L1254.96,57.18 L1256.06,55.36 L1257.21,53.57 L1258.45,51.88 L1259.81,50.33 L1261.29,48.99 L1262.9,47.93 L1264.55,47.22 L1266,46.84 L1268.9,46.33 L1271.09,45.77 L1273.29,45.24 L1275.48,44.8 L1277.65,44.44 L1279.82,44.12 L1281.99,43.8 L1284,43.48 L1286,43.17 L1288,42.87 L1290.01,42.61 L1292.22,42.48 L1294.41,41.67 L1296.83,40.53 L1299.31,40.07 L1301.51,40.24 L1303.73,41.53 L1306.23,43.49 L1307.44,44.49 L1308.91,45.72 L1310.48,47.06 L1312.05,48.46 L1313.57,49.92 L1315.03,51.42 L1316.42,52.97 L1317.75,54.57 L1319.04,56.21 L1320.31,57.87 L1321.56,59.55 L1322.82,61.25 L1324.07,62.98 L1325.31,64.74 L1326.54,66.49 L1327.75,68.22 L1328.93,69.92 L1330.09,71.6 L1331.23,73.26 L1332.38,74.92 L1333.51,76.58 L1334.65,78.24 L1335.79,79.9 L1336.93,81.55 L1338.07,83.21 L1339.22,84.86 L1340.36,86.52 L1341.52,88.16 L1342.68,89.81 L1343.84,91.45 L1345.02,93.08 L1346.2,94.72 L1347.38,96.35 L1348.57,97.98 L1349.77,99.61 L1350.96,101.23 L1352.16,102.85 L1353.37,104.47 L1354.58,106.09 L1355.8,107.69 L1357.03,109.3 L1358.26,110.89 L1359.51,112.48 L1360.77,114.06 L1362.04,115.63 L1363.32,117.19 L1364.63,118.74 L1365.95,120.27 L1367.29,121.79 L1368.65,123.29 L1370.02,124.78 L1371.41,126.25 L1372.81,127.7 L1374.22,129.13 L1375.65,130.54 L1377.09,131.94 L1378.56,133.33 L1380.06,134.71 L1381.59,136.09 L1383.14,137.46 L1384.72,138.83 L1386.31,140.19 L1387.89,141.55 L1389.47,142.93 L1391.03,144.32 L1392.56,145.73 L1394.07,147.17 L1395.56,148.63 L1397.02,150.1 L1398.48,151.59 L1399.93,153.07 L1401.39,154.55 L1402.87,156.02 L1404.37,157.45 L1405.89,158.86 L1407.42,160.25 L1408.98,161.61 L1410.55,162.95 L1412.13,164.28 L1413.72,165.61 L1415.3,166.92 L1416.88,168.23 L1418.45,169.54 L1420,170.84 L1421.54,172.14 L1423.09,173.43 L1424.64,174.71 L1426.21,175.96 L1427.81,177.19 L1429.44,178.38 L1431.14,179.54 L1432.89,180.64 L1434.72,181.66 L1436.63,182.56 L1438.65,183.33 L1440.75,183.88 L1442.91,184.11 L1445.02,183.91 L1446.97,183.22 L1448.67,182.1 L1450.16,180.69 L1451.54,179.15 L1452.88,177.57 L1454.2,176 L1455.52,174.44 L1456.82,172.87 L1458.1,171.28 L1459.36,169.67 L1460.6,168.03 L1461.81,166.35 L1463.01,164.66 L1464.18,162.94 L1465.34,161.21 L1466.49,159.48 L1467.64,157.74 L1468.79,156.01 L1469.95,154.28 L1471.13,152.57 L1472.32,150.87 L1473.53,149.18 L1474.76,147.51 L1476,145.85 L1477.26,144.2 L1478.53,142.55 L1479.8,140.92 L1481.07,139.28 L1482.35,137.65 L1483.63,136.01 L1484.9,134.37 L1486.16,132.73 L1487.42,131.09 L1488.66,129.44 L1489.88,127.8 L1491.08,126.16 L1492.27,124.52 L1493.45,122.89 L1494.62,121.24 L1495.79,119.6 L1496.96,117.95 L1498.13,116.31 L1499.29,114.66 L1500.45,113.01 L1501.62,111.36 L1502.78,109.71 L1503.95,108.07 L1505.12,106.42 L1506.29,104.78 L1507.47,103.14 L1508.66,101.5 L1509.84,99.86 L1511.03,98.22 L1512.22,96.59 L1513.4,94.95 L1514.59,93.31 L1515.77,91.67 L1516.95,90.03 L1518.13,88.39 L1519.3,86.74 L1520.46,85.08 L1521.62,83.42 L1522.78,81.74 L1523.93,80.06 L1525.07,78.37 L1526.22,76.68 L1527.35,74.98 L1528.48,73.27 L1529.61,71.57 L1530.74,69.86 L1531.86,68.15 L1532.98,66.44 L1534.1,64.73 L1535.23,63.02 L1536.35,61.3 L1537.48,59.56 L1538.62,57.78 L1539.77,55.96 L1540.97,54.13 L1542.28,52.4 L1543.73,50.85 L1545.37,49.53 L1547.17,48.45 L1549.08,47.58 L1551,46.87 L1552.74,46.33 L1555.3,45.6" fill="none" stroke="#ff0000" stroke-width="2.2" stroke-linejoin="round" stroke-linecap="butt"/>
<path d="M978.6,360.6 L980.93,360.53 L982.94,360.46 L985.07,360.36 L987.2,360.18 L989.26,359.91 L991.27,359.55 L993.25,359.14 L995.21,358.68 L997.17,358.18 L999.12,357.66 L1001.07,357.13 L1003.01,356.59 L1004.92,356.08 L1006.55,355.65 L1007.95,353.92 L1008,352.25 L1008.07,350.29 L1008.14,348.3 L1008.2,346.3 L1008.27,344.3 L1008.34,342.3 L1008.41,340.29 L1008.48,338.29 L1008.54,336.29 L1008.61,334.29 L1008.68,332.29 L1008.75,330.29 L1008.81,328.29 L1008.88,326.29 L1008.95,324.29 L1009.02,322.29 L1009.08,320.29 L1009.15,318.29 L1009.22,316.28 L1009.29,314.28 L1009.36,312.28 L1009.42,310.28 L1009.49,308.28 L1009.56,306.28 L1009.63,304.28 L1009.69,302.28 L1009.76,300.28 L1009.83,298.28 L1009.9,296.28 L1009.96,294.28 L1010.03,292.28 L1010.1,290.27 L1010.17,288.27 L1010.24,286.27 L1010.3,284.27 L1010.37,282.27 L1010.44,280.27 L1010.51,278.27 L1010.57,276.27 L1010.64,274.27 L1010.71,272.27 L1010.78,270.27 L1010.84,268.27 L1010.91,266.27 L1010.98,264.26 L1011.05,262.26 L1011.12,260.26 L1011.18,258.26 L1011.25,256.26 L1011.32,254.26 L1011.39,252.26 L1011.45,250.26 L1011.52,248.26 L1011.59,246.26 L1011.66,244.26 L1011.72,242.26 L1011.79,240.26 L1011.86,238.25 L1011.93,236.25 L1012,234.25 L1012.06,232.25 L1012.13,230.25 L1012.2,228.25 L1012.27,226.25 L1012.33,224.25 L1012.4,222.25 L1012.47,220.25 L1012.54,218.25 L1012.6,216.25 L1012.67,214.25 L1012.74,212.25 L1012.81,210.24 L1012.88,208.24 L1012.94,206.24 L1013.01,204.24 L1013.08,202.24 L1013.15,200.24 L1013.21,198.24 L1013.28,196.24 L1013.35,194.24 L1013.42,192.24 L1013.48,190.24 L1013.55,188.24 L1013.62,186.24 L1013.69,184.23 L1013.76,182.23 L1013.82,180.23 L1013.89,178.23 L1013.96,176.23 L1014.03,174.23 L1014.09,172.23 L1014.16,170.23 L1014.23,168.23 L1014.3,166.23 L1014.36,164.23 L1014.43,162.23 L1014.5,160.22 L1014.57,158.22 L1014.64,156.22 L1014.7,154.22 L1014.77,152.22 L1014.84,150.22 L1014.91,148.22 L1014.97,146.22 L1015.04,144.22 L1015.11,142.22 L1015.18,140.22 L1015.24,138.22 L1015.31,136.22 L1015.38,134.21 L1015.45,132.21 L1015.52,130.21 L1015.58,128.21 L1015.65,126.21 L1015.72,124.21 L1015.79,122.21 L1015.85,120.21 L1015.92,118.21 L1015.99,116.21 L1016.06,114.21 L1016.12,112.21 L1016.19,110.21 L1016.26,108.21 L1016.33,106.2 L1016.4,104.2 L1016.46,102.2 L1016.53,100.21 L1016.6,98.25 L1016.65,96.58 L1018.1,95.13 L1019.79,95.03 L1021.76,94.91 L1023.78,94.79 L1025.8,94.68 L1027.83,94.57 L1029.85,94.49 L1031.87,94.44 L1033.89,94.42 L1035.9,94.44 L1037.9,94.5 L1039.9,94.59 L1041.9,94.7 L1043.9,94.82 L1045.9,94.94 L1047.9,95.05 L1049.91,95.15 L1051.94,95.23 L1053.99,95.28 L1056.05,95.33 L1058.11,95.36 L1060.17,95.39 L1062.24,95.41 L1064.3,95.42 L1066.36,95.45 L1068.42,95.47 L1070.48,95.51 L1072.54,95.56 L1074.6,95.62 L1076.66,95.7 L1078.72,95.81 L1080.78,95.94 L1082.84,96.1 L1084.91,96.28 L1086.99,96.5 L1089.06,96.74 L1091.13,97.02 L1093.19,97.32 L1095.25,97.65 L1097.31,98.02 L1099.37,98.44 L1101.42,98.9 L1103.47,99.39 L1105.52,99.92 L1107.57,100.46 L1109.66,101.03 L1111.76,101.62 L1113.58,102.15 L1115.86,103.97 L1116.78,105.64 L1117.82,107.58 L1118.83,109.53 L1119.74,111.43 L1120.58,113.29 L1121.39,115.16 L1122.18,117.03 L1122.98,118.89 L1123.81,120.75 L1124.67,122.59 L1125.58,124.44 L1126.55,126.27 L1127.68,128 L1129.03,129.56 L1130.58,130.95 L1132.27,132.18 L1134.06,133.27 L1135.9,134.23 L1137.76,135.08 L1139.64,135.82 L1141.56,136.48 L1143.5,137.06 L1145.46,137.58 L1147.43,138.05 L1149.42,138.48 L1151.4,138.88 L1153.4,139.22 L1155.41,139.5 L1157.42,139.72 L1159.44,139.89 L1161.46,140.03 L1163.49,140.14 L1165.52,140.24 L1167.55,140.33 L1169.58,140.41 L1171.61,140.48 L1173.64,140.53 L1175.68,140.56 L1177.71,140.58 L1179.74,140.57 L1181.77,140.55 L1183.8,140.5 L1185.83,140.42 L1187.86,140.31 L1189.89,140.16 L1191.91,139.95 L1193.93,139.66 L1195.94,139.28 L1197.94,138.85 L1199.94,138.39 L1201.94,137.94 L1203.94,137.52 L1205.95,137.17 L1207.97,136.91 L1210.04,136.79 L1212.19,136.82 L1214.42,137.04 L1216.62,137.54 L1218.66,138.38 L1220.48,139.56 L1222.09,141.02 L1223.53,142.67 L1224.83,144.4 L1225.99,146.17 L1227.04,147.98 L1227.97,149.85 L1228.81,151.76 L1229.56,153.7 L1230.24,155.66 L1230.85,157.63 L1231.4,159.62 L1231.91,161.62 L1232.37,163.63 L1232.79,165.65 L1233.18,167.69 L1233.54,169.72 L1233.87,171.76 L1234.18,173.79 L1234.46,175.8 L1234.7,177.81 L1234.9,179.82 L1235.07,181.83 L1235.21,183.85 L1235.34,185.87 L1235.45,187.89 L1235.56,189.91 L1235.67,191.93 L1235.78,193.95 L1235.9,195.97 L1236.05,197.98 L1236.21,200 L1236.38,202.02 L1236.56,204.03 L1236.74,206.05 L1236.92,208.06 L1237.1,210.08 L1237.28,212.1 L1237.46,214.11 L1237.65,216.13 L1237.83,218.14 L1238.02,220.16 L1238.21,222.17 L1238.4,224.19 L1238.59,226.2 L1238.78,228.22 L1238.98,230.23 L1239.18,232.25 L1239.38,234.26 L1239.59,236.27 L1239.79,238.29 L1240,240.3 L1240.22,242.31 L1240.44,244.32 L1240.66,246.34 L1240.88,248.35 L1241.11,250.36 L1241.35,252.37 L1241.59,254.38 L1241.83,256.39 L1242.08,258.39 L1242.33,260.39 L1242.58,262.38 L1242.84,264.36 L1243.1,266.34 L1243.37,268.32 L1243.64,270.31 L1243.91,272.29 L1244.19,274.27 L1244.48,276.25 L1244.77,278.23 L1245.06,280.21 L1245.35,282.19 L1245.66,284.16 L1245.96,286.14 L1246.27,288.12 L1246.58,290.09 L1246.9,292.07 L1247.22,294.04 L1247.55,296.01 L1247.88,297.99 L1248.22,299.96 L1248.56,301.93 L1248.9,303.92 L1249.25,305.93 L1249.59,307.96 L1249.93,310 L1250.27,312.03 L1250.61,314.06 L1250.95,316.1 L1251.31,318.13 L1251.67,320.16 L1252.04,322.19 L1252.44,324.21 L1252.85,326.23 L1253.29,328.24 L1253.75,330.24 L1254.24,332.24 L1254.77,334.23 L1255.32,336.22 L1255.9,338.21 L1256.48,340.22 L1257.08,342.24 L1257.71,344.25 L1258.41,346.23 L1259.2,348.16 L1260.11,350.02 L1261.17,351.78 L1262.42,353.41 L1263.9,354.87 L1265.59,356.08 L1267.46,356.95 L1269.44,357.42 L1271.35,357.52 L1273.6,357.4 L1275.8,356.84 L1277.7,356.35 L1279.73,355.83 L1281.78,355.31 L1283.82,354.79 L1285.87,354.27 L1287.9,353.75 L1289.8,353.26 L1292,352.7 L1292.09,350.54 L1292.16,348.68 L1292.24,346.69 L1292.32,344.69 L1292.4,342.69 L1292.48,340.69 L1292.56,338.68 L1292.64,336.68 L1292.71,334.68 L1292.79,332.68 L1292.87,330.67 L1292.95,328.67 L1293.03,326.67 L1293.11,324.67 L1293.19,322.66 L1293.27,320.66 L1293.35,318.66 L1293.43,316.66 L1293.51,314.66 L1293.59,312.65 L1293.67,310.65 L1293.75,308.65 L1293.83,306.65 L1293.91,304.64 L1293.98,302.64 L1294.06,300.64 L1294.14,298.64 L1294.22,296.63 L1294.3,294.63 L1294.38,292.63 L1294.46,290.63 L1294.54,288.63 L1294.62,286.62 L1294.7,284.62 L1294.78,282.62 L1294.86,280.62 L1294.94,278.61 L1295.02,276.61 L1295.1,274.61 L1295.18,272.61 L1295.25,270.6 L1295.33,268.6 L1295.41,266.6 L1295.49,264.6 L1295.57,262.59 L1295.65,260.59 L1295.73,258.59 L1295.81,256.59 L1295.89,254.59 L1295.97,252.58 L1296.05,250.58 L1296.13,248.58 L1296.21,246.58 L1296.29,244.57 L1296.37,242.57 L1296.45,240.57 L1296.52,238.57 L1296.6,236.56 L1296.68,234.56 L1296.76,232.56 L1296.84,230.56 L1296.92,228.56 L1297,226.55 L1297.08,224.55 L1297.16,222.55 L1297.24,220.55 L1297.32,218.54 L1297.4,216.54 L1297.48,214.54 L1297.56,212.54 L1297.64,210.53 L1297.72,208.53 L1297.79,206.53 L1297.87,204.53 L1297.95,202.52 L1298.03,200.52 L1298.11,198.52 L1298.19,196.52 L1298.27,194.52 L1298.35,192.51 L1298.43,190.51 L1298.51,188.51 L1298.59,186.51 L1298.67,184.5 L1298.75,182.5 L1298.83,180.5 L1298.91,178.5 L1298.99,176.49 L1299.06,174.49 L1299.14,172.49 L1299.22,170.49 L1299.3,168.49 L1299.38,166.48 L1299.46,164.48 L1299.54,162.48 L1299.62,160.48 L1299.7,158.47 L1299.78,156.47 L1299.86,154.47 L1299.94,152.47 L1300.02,150.46 L1300.1,148.46 L1300.18,146.46 L1300.26,144.46 L1300.33,142.45 L1300.41,140.45 L1300.49,138.45 L1300.57,136.45 L1300.65,134.45 L1300.73,132.44 L1300.81,130.44 L1300.89,128.44 L1300.97,126.44 L1301.05,124.43 L1301.13,122.43 L1301.21,120.43 L1301.29,118.43 L1301.37,116.42 L1301.45,114.42 L1301.53,112.42 L1301.6,110.42 L1301.68,108.42 L1301.76,106.41 L1301.84,104.41 L1301.92,102.41 L1302,100.41 L1302.08,98.46 L1302.15,96.78 L1303.6,95.4 L1305.3,95.39 L1307.28,95.38 L1309.3,95.37 L1311.33,95.35 L1313.36,95.33 L1315.39,95.32 L1317.42,95.3 L1319.45,95.29 L1321.48,95.27 L1323.51,95.27 L1325.54,95.27 L1327.57,95.27 L1329.6,95.28 L1331.63,95.31 L1333.66,95.34 L1335.68,95.38 L1337.71,95.43 L1339.73,95.48 L1341.75,95.53 L1343.78,95.58 L1345.8,95.64 L1347.82,95.7 L1349.84,95.77 L1351.86,95.84 L1353.88,95.93 L1355.9,96.03 L1357.92,96.14 L1359.94,96.27 L1361.96,96.42 L1363.97,96.58 L1365.98,96.77 L1367.99,96.98 L1370,97.22 L1372.01,97.48 L1374.02,97.78 L1376.02,98.11 L1378.02,98.47 L1380.01,98.84 L1382,99.24 L1383.99,99.65 L1385.98,100.07 L1387.97,100.5 L1389.95,100.93 L1391.94,101.36 L1393.92,101.78 L1395.86,102.18 L1397.53,102.52 L1399.67,104.14 L1400.6,105.76 L1401.68,107.66 L1402.73,109.61 L1403.69,111.58 L1404.53,113.56 L1405.28,115.59 L1406.02,117.61 L1406.81,119.6 L1407.71,121.51 L1408.8,123.28 L1410.11,124.87 L1411.65,126.23 L1413.36,127.36 L1415.22,128.31 L1417.15,129.13 L1419.12,129.88 L1421.08,130.59 L1423.02,131.28 L1424.95,131.94 L1426.89,132.57 L1428.85,133.18 L1430.81,133.74 L1432.78,134.28 L1434.76,134.78 L1436.75,135.25 L1438.75,135.69 L1440.75,136.08 L1442.76,136.44 L1444.77,136.77 L1446.79,137.05 L1448.8,137.28 L1450.81,137.46 L1452.83,137.58 L1454.84,137.65 L1456.86,137.67 L1458.88,137.66 L1460.91,137.61 L1462.93,137.54 L1464.95,137.45 L1466.97,137.35 L1468.99,137.25 L1471.01,137.12 L1473.03,136.96 L1475.05,136.77 L1477.07,136.54 L1479.08,136.29 L1481.1,136.04 L1483.11,135.79 L1485.13,135.55 L1487.15,135.35 L1489.17,135.18 L1491.23,135.05 L1493.37,134.95 L1495.58,134.89 L1497.81,134.97 L1499.98,135.29 L1502.07,135.93 L1504.05,136.86 L1505.91,138.03 L1507.63,139.4 L1509.19,140.93 L1510.55,142.58 L1511.72,144.34 L1512.74,146.18 L1513.63,148.1 L1514.42,150.08 L1515.13,152.1 L1515.78,154.14 L1516.38,156.16 L1516.95,158.15 L1517.46,160.1 L1517.92,162.05 L1518.33,164.01 L1518.71,165.98 L1519.05,167.96 L1519.36,169.94 L1519.64,171.93 L1519.9,173.93 L1520.15,175.92 L1520.39,177.92 L1520.63,179.91 L1520.86,181.91 L1521.1,183.9 L1521.32,185.9 L1521.54,187.9 L1521.73,189.9 L1521.91,191.91 L1522.08,193.91 L1522.23,195.92 L1522.38,197.93 L1522.52,199.94 L1522.65,201.95 L1522.79,203.96 L1522.92,205.97 L1523.06,207.97 L1523.2,209.98 L1523.36,211.99 L1523.52,214 L1523.69,216.01 L1523.86,218.03 L1524.03,220.05 L1524.2,222.07 L1524.37,224.09 L1524.53,226.11 L1524.7,228.13 L1524.87,230.15 L1525.04,232.17 L1525.21,234.19 L1525.38,236.21 L1525.56,238.23 L1525.74,240.25 L1525.93,242.27 L1526.12,244.29 L1526.32,246.31 L1526.52,248.33 L1526.74,250.34 L1526.96,252.36 L1527.19,254.37 L1527.43,256.38 L1527.68,258.39 L1527.94,260.4 L1528.21,262.41 L1528.49,264.42 L1528.78,266.43 L1529.08,268.43 L1529.39,270.43 L1529.71,272.44 L1530.04,274.44 L1530.37,276.44 L1530.7,278.44 L1531.04,280.43 L1531.39,282.43 L1531.74,284.43 L1532.09,286.43 L1532.44,288.42 L1532.8,290.42 L1533.16,292.41 L1533.51,294.41 L1533.87,296.41 L1534.22,298.4 L1534.57,300.39 L1534.9,302.38 L1535.23,304.37 L1535.54,306.36 L1535.86,308.35 L1536.17,310.34 L1536.48,312.33 L1536.79,314.33 L1537.11,316.32 L1537.44,318.3 L1537.79,320.29 L1538.15,322.27 L1538.53,324.25 L1538.94,326.22 L1539.37,328.18 L1539.82,330.14 L1540.32,332.09 L1540.84,334.05 L1541.39,336.06 L1541.94,338.12 L1542.5,340.21 L1543.1,342.3 L1543.77,344.35 L1544.54,346.34 L1545.47,348.23 L1546.6,349.98 L1547.97,351.54 L1549.62,352.81 L1551.51,353.79 L1553.39,354.55 L1555.6,355.4" fill="none" stroke="#0000ff" stroke-width="3.5" stroke-linejoin="round" stroke-linecap="butt"/>
<circle cx="988.3" cy="360.1" r="5.6" fill="#0000ff"/>
<circle cx="1034.4" cy="94.4" r="5.6" fill="#0000ff"/>
<circle cx="1164.9" cy="140.1" r="5.6" fill="#0000ff"/>
<circle cx="1273.6" cy="357.4" r="5.6" fill="#0000ff"/>
<rect x="1152.3" y="179.3" width="10" height="10" fill="#ff0000"/>
<rect x="1262.8" y="41.6" width="10" height="10" fill="#ff0000"/>
<polygon points="1382.2,62.9 1383.94,66.8 1388.19,67.25 1385.02,70.11 1385.9,74.3 1382.2,72.16 1378.5,74.3 1379.38,70.11 1376.21,67.25 1380.46,66.8" fill="#008000"/>
<text x="1033.9" y="122.8" font-size="20" fill="#0000ff" font-weight="bold" font-style="normal" text-anchor="middle" stroke="#0000ff" stroke-width="0.3">B</text>
<text x="1162.2" y="165" font-size="20" fill="#0000ff" font-weight="bold" font-style="normal" text-anchor="middle" stroke="#0000ff" stroke-width="0.3">C</text>
<text x="1275.7" y="389.8" font-size="20" fill="#0000ff" font-weight="bold" font-style="normal" text-anchor="middle" stroke="#0000ff" stroke-width="0.3">D</text>
<text x="1012.5" y="370.2" font-size="19" fill="#0000ff" font-weight="bold" font-style="italic" text-anchor="start" stroke="#0000ff" stroke-width="0.3">&#949;<tspan font-size="12.5" dy="8">0</tspan></text>
<text transform="translate(1180.41,47.2) scale(1,1.05)" x="0" y="0" font-size="21" fill="#ff0000" font-weight="normal" font-style="normal" text-anchor="start" stroke="#ff0000" stroke-width="0.3">190<tspan dy="1.68" stroke-width="0">&#176;</tspan><tspan dy="-1.68">C</tspan></text>
<text transform="translate(1124.76,77.2) scale(1,1.05)" x="0" y="0" font-size="21" fill="#ff0000" font-weight="normal" font-style="normal" text-anchor="start" stroke="#ff0000" stroke-width="0.3">5<tspan dy="1.68" stroke-width="0">&#176;</tspan><tspan dy="-1.68">C/min</tspan></text>
<line x1="1176.7" y1="84.3" x2="1203.74" y2="112.22" stroke="#ff0000" stroke-width="1.1" stroke-linecap="butt"/>
<polygon points="1210.7,119.4 1200.96,113.52 1205.13,109.48" fill="#ff0000"/>
<text transform="translate(1134.91,217.7) scale(1,1.05)" x="0" y="0" font-size="21" fill="#ff0000" font-weight="normal" font-style="normal" text-anchor="start" stroke="#ff0000" stroke-width="0.3">120<tspan dy="1.68" stroke-width="0">&#176;</tspan><tspan dy="-1.68">C</tspan></text>
<text transform="translate(1363.56,55) scale(1,1.05)" x="0" y="0" font-size="21" fill="#008000" font-weight="normal" font-style="normal" text-anchor="start" stroke="#008000" stroke-width="0.3">0.7MPa</text>
<text transform="translate(1054.91,257.2) scale(1,1.05)" x="0" y="0" font-size="21" fill="#000000" font-weight="normal" font-style="normal" text-anchor="start" stroke="#000000" stroke-width="0.3">1st Cycle</text>
<text transform="translate(1055.16,283.4) scale(1,1.05)" x="0" y="0" font-size="21" fill="#000000" font-weight="normal" font-style="normal" text-anchor="start" stroke="#000000" stroke-width="0.3"><tspan font-style="italic">R</tspan><tspan font-style="italic" font-size="13.02" dy="7.14">f</tspan><tspan dy="-7.14">=83.1%</tspan></text>
<text transform="translate(1055.16,316.8) scale(1,1.05)" x="0" y="0" font-size="21" fill="#000000" font-weight="normal" font-style="normal" text-anchor="start" stroke="#000000" stroke-width="0.3"><tspan font-style="italic">R</tspan><tspan font-style="italic" font-size="13.02" dy="7.14">r</tspan><tspan dy="-7.14">=99.2%</tspan></text>
<text transform="translate(1354.87,261.2) scale(1,1.05)" x="0" y="0" font-size="21" fill="#000000" font-weight="normal" font-style="normal" text-anchor="start" stroke="#000000" stroke-width="0.3">2nd Cycle</text>
<text transform="translate(1355.36,287.2) scale(1,1.05)" x="0" y="0" font-size="21" fill="#000000" font-weight="normal" font-style="normal" text-anchor="start" stroke="#000000" stroke-width="0.3"><tspan font-style="italic">R</tspan><tspan font-style="italic" font-size="13.02" dy="7.14">f</tspan><tspan dy="-7.14">=83.1%</tspan></text>
<text transform="translate(1355.36,320.6) scale(1,1.05)" x="0" y="0" font-size="21" fill="#000000" font-weight="normal" font-style="normal" text-anchor="start" stroke="#000000" stroke-width="0.3"><tspan font-style="italic">R</tspan><tspan font-style="italic" font-size="13.02" dy="7.14">r</tspan><tspan dy="-7.14">=99.3%</tspan></text>
<line x1="1040" y1="402.3" x2="1087.8" y2="402.3" stroke="#ff0000" stroke-width="2" stroke-linecap="butt"/>
<text transform="translate(1093.92,409.4) scale(1,1.05)" x="0" y="0" font-size="21.9" fill="#000000" font-weight="normal" font-style="normal" text-anchor="start" stroke="#000000" stroke-width="0.3">Temperature</text>
<text transform="translate(1224.87,409.4) scale(1,1.05)" x="0" y="0" font-size="21.5" fill="#000000" font-weight="normal" font-style="normal" text-anchor="start" stroke="#000000" stroke-width="0.3">;</text>
<line x1="1237.8" y1="402.3" x2="1285.6" y2="402.3" stroke="#008000" stroke-width="2" stroke-linecap="butt"/>
<text transform="translate(1291.83,409.4) scale(1,1.05)" x="0" y="0" font-size="21.5" fill="#000000" font-weight="normal" font-style="normal" text-anchor="start" stroke="#000000" stroke-width="0.3">Stress</text>
<text transform="translate(1360.37,409.4) scale(1,1.05)" x="0" y="0" font-size="21.5" fill="#000000" font-weight="normal" font-style="normal" text-anchor="start" stroke="#000000" stroke-width="0.3">;</text>
<line x1="1374.4" y1="402.3" x2="1422.2" y2="402.3" stroke="#0000ff" stroke-width="3.5" stroke-linecap="butt"/>
<text transform="translate(1427.96,409.4) scale(1,1.05)" x="0" y="0" font-size="21" fill="#000000" font-weight="normal" font-style="normal" text-anchor="start" stroke="#000000" stroke-width="0.3">Strain</text>
<line x1="80" y1="576.7" x2="722.7" y2="576.7" stroke="#000000" stroke-width="2" stroke-linecap="square"/>
<line x1="80" y1="970" x2="722.7" y2="970" stroke="#000000" stroke-width="2" stroke-linecap="square"/>
<line x1="101.7" y1="970" x2="101.7" y2="978.5" stroke="#000000" stroke-width="2" stroke-linecap="butt"/>
<line x1="146.06" y1="970" x2="146.06" y2="974.3" stroke="#000000" stroke-width="2" stroke-linecap="butt"/>
<line x1="190.41" y1="970" x2="190.41" y2="978.5" stroke="#000000" stroke-width="2" stroke-linecap="butt"/>
<line x1="234.77" y1="970" x2="234.77" y2="974.3" stroke="#000000" stroke-width="2" stroke-linecap="butt"/>
<line x1="279.13" y1="970" x2="279.13" y2="978.5" stroke="#000000" stroke-width="2" stroke-linecap="butt"/>
<line x1="323.49" y1="970" x2="323.49" y2="974.3" stroke="#000000" stroke-width="2" stroke-linecap="butt"/>
<line x1="367.84" y1="970" x2="367.84" y2="978.5" stroke="#000000" stroke-width="2" stroke-linecap="butt"/>
<line x1="412.2" y1="970" x2="412.2" y2="974.3" stroke="#000000" stroke-width="2" stroke-linecap="butt"/>
<line x1="456.56" y1="970" x2="456.56" y2="978.5" stroke="#000000" stroke-width="2" stroke-linecap="butt"/>
<line x1="500.91" y1="970" x2="500.91" y2="974.3" stroke="#000000" stroke-width="2" stroke-linecap="butt"/>
<line x1="545.27" y1="970" x2="545.27" y2="978.5" stroke="#000000" stroke-width="2" stroke-linecap="butt"/>
<line x1="589.63" y1="970" x2="589.63" y2="974.3" stroke="#000000" stroke-width="2" stroke-linecap="butt"/>
<line x1="633.98" y1="970" x2="633.98" y2="978.5" stroke="#000000" stroke-width="2" stroke-linecap="butt"/>
<line x1="678.34" y1="970" x2="678.34" y2="974.3" stroke="#000000" stroke-width="2" stroke-linecap="butt"/>
<line x1="722.7" y1="970" x2="722.7" y2="978.5" stroke="#000000" stroke-width="2" stroke-linecap="butt"/>
<text x="101.7" y="998" font-size="17.5" fill="#000000" font-weight="normal" font-style="normal" text-anchor="middle" stroke="#000000" stroke-width="0.3">0</text>
<text x="190.41" y="998" font-size="17.5" fill="#000000" font-weight="normal" font-style="normal" text-anchor="middle" stroke="#000000" stroke-width="0.3">20</text>
<text x="279.13" y="998" font-size="17.5" fill="#000000" font-weight="normal" font-style="normal" text-anchor="middle" stroke="#000000" stroke-width="0.3">40</text>
<text x="367.84" y="998" font-size="17.5" fill="#000000" font-weight="normal" font-style="normal" text-anchor="middle" stroke="#000000" stroke-width="0.3">60</text>
<text x="456.56" y="998" font-size="17.5" fill="#000000" font-weight="normal" font-style="normal" text-anchor="middle" stroke="#000000" stroke-width="0.3">80</text>
<text x="545.27" y="998" font-size="17.5" fill="#000000" font-weight="normal" font-style="normal" text-anchor="middle" stroke="#000000" stroke-width="0.3">100</text>
<text x="633.98" y="998" font-size="17.5" fill="#000000" font-weight="normal" font-style="normal" text-anchor="middle" stroke="#000000" stroke-width="0.3">120</text>
<text x="722.7" y="998" font-size="17.5" fill="#000000" font-weight="normal" font-style="normal" text-anchor="middle" stroke="#000000" stroke-width="0.3">140</text>
<text x="400.95" y="1030.6" font-size="20.2" fill="#000000" font-weight="bold" font-style="normal" text-anchor="middle" stroke="#000000" stroke-width="0.3">Time (min)</text>
<line x1="80" y1="576.7" x2="80" y2="970" stroke="#ff0000" stroke-width="2" stroke-linecap="square"/>
<line x1="80" y1="970" x2="71.2" y2="970" stroke="#ff0000" stroke-width="2" stroke-linecap="butt"/>
<line x1="80" y1="920.84" x2="75.3" y2="920.84" stroke="#ff0000" stroke-width="2" stroke-linecap="butt"/>
<line x1="80" y1="871.67" x2="71.2" y2="871.67" stroke="#ff0000" stroke-width="2" stroke-linecap="butt"/>
<line x1="80" y1="822.51" x2="75.3" y2="822.51" stroke="#ff0000" stroke-width="2" stroke-linecap="butt"/>
<line x1="80" y1="773.35" x2="71.2" y2="773.35" stroke="#ff0000" stroke-width="2" stroke-linecap="butt"/>
<line x1="80" y1="724.19" x2="75.3" y2="724.19" stroke="#ff0000" stroke-width="2" stroke-linecap="butt"/>
<line x1="80" y1="675.03" x2="71.2" y2="675.03" stroke="#ff0000" stroke-width="2" stroke-linecap="butt"/>
<line x1="80" y1="625.86" x2="75.3" y2="625.86" stroke="#ff0000" stroke-width="2" stroke-linecap="butt"/>
<line x1="80" y1="576.7" x2="71.2" y2="576.7" stroke="#ff0000" stroke-width="2" stroke-linecap="butt"/>
<text x="64.5" y="975.2" font-size="17.5" fill="#ff0000" font-weight="normal" font-style="normal" text-anchor="end" stroke="#ff0000" stroke-width="0.3">0</text>
<text x="64.5" y="876.88" font-size="17.5" fill="#ff0000" font-weight="normal" font-style="normal" text-anchor="end" stroke="#ff0000" stroke-width="0.3">50</text>
<text x="64.5" y="778.55" font-size="17.5" fill="#ff0000" font-weight="normal" font-style="normal" text-anchor="end" stroke="#ff0000" stroke-width="0.3">100</text>
<text x="64.5" y="680.23" font-size="17.5" fill="#ff0000" font-weight="normal" font-style="normal" text-anchor="end" stroke="#ff0000" stroke-width="0.3">150</text>
<text x="64.5" y="581.9" font-size="17.5" fill="#ff0000" font-weight="normal" font-style="normal" text-anchor="end" stroke="#ff0000" stroke-width="0.3">200</text>
<text transform="translate(22.9,784.1) rotate(-90)" x="0" y="0" font-size="21" fill="#ff0000" font-weight="bold" text-anchor="middle" stroke="#ff0000" stroke-width="0.3">Temperature (<tspan dy="1.7">&#176;</tspan><tspan dy="-1.7">C)</tspan></text>
<line x1="722.7" y1="576.7" x2="722.7" y2="970" stroke="#008000" stroke-width="2" stroke-linecap="square"/>
<line x1="722.7" y1="970.02" x2="714.7" y2="970.02" stroke="#008000" stroke-width="2" stroke-linecap="butt"/>
<line x1="722.7" y1="923.74" x2="718.7" y2="923.74" stroke="#008000" stroke-width="2" stroke-linecap="butt"/>
<line x1="722.7" y1="877.46" x2="714.7" y2="877.46" stroke="#008000" stroke-width="2" stroke-linecap="butt"/>
<line x1="722.7" y1="831.18" x2="718.7" y2="831.18" stroke="#008000" stroke-width="2" stroke-linecap="butt"/>
<line x1="722.7" y1="784.9" x2="714.7" y2="784.9" stroke="#008000" stroke-width="2" stroke-linecap="butt"/>
<line x1="722.7" y1="738.62" x2="718.7" y2="738.62" stroke="#008000" stroke-width="2" stroke-linecap="butt"/>
<line x1="722.7" y1="692.34" x2="714.7" y2="692.34" stroke="#008000" stroke-width="2" stroke-linecap="butt"/>
<line x1="722.7" y1="646.06" x2="718.7" y2="646.06" stroke="#008000" stroke-width="2" stroke-linecap="butt"/>
<line x1="722.7" y1="599.78" x2="714.7" y2="599.78" stroke="#008000" stroke-width="2" stroke-linecap="butt"/>
<text x="733.2" y="605.38" font-size="17.5" fill="#008000" font-weight="normal" font-style="normal" text-anchor="start" stroke="#008000" stroke-width="0.3">0.8</text>
<text x="733.2" y="697.94" font-size="17.5" fill="#008000" font-weight="normal" font-style="normal" text-anchor="start" stroke="#008000" stroke-width="0.3">0.4</text>
<text x="733.2" y="790.5" font-size="17.5" fill="#008000" font-weight="normal" font-style="normal" text-anchor="start" stroke="#008000" stroke-width="0.3">0.0</text>
<text x="733.2" y="883.06" font-size="17.5" fill="#008000" font-weight="normal" font-style="normal" text-anchor="start" stroke="#008000" stroke-width="0.3">-0.4</text>
<text x="733.2" y="975.62" font-size="17.5" fill="#008000" font-weight="normal" font-style="normal" text-anchor="start" stroke="#008000" stroke-width="0.3">-0.8</text>
<text transform="translate(697.5,778) rotate(-90)" x="0" y="0" font-size="21" fill="#008000" font-weight="bold" text-anchor="middle" stroke="#008000" stroke-width="0.3">Stress(MPa)</text>
<line x1="774.5" y1="579.1" x2="774.5" y2="971.92" stroke="#0000ff" stroke-width="2" stroke-linecap="square"/>
<line x1="774.5" y1="971.92" x2="782.5" y2="971.92" stroke="#0000ff" stroke-width="2" stroke-linecap="butt"/>
<line x1="774.5" y1="939.19" x2="778.5" y2="939.19" stroke="#0000ff" stroke-width="2" stroke-linecap="butt"/>
<line x1="774.5" y1="906.45" x2="782.5" y2="906.45" stroke="#0000ff" stroke-width="2" stroke-linecap="butt"/>
<line x1="774.5" y1="873.72" x2="778.5" y2="873.72" stroke="#0000ff" stroke-width="2" stroke-linecap="butt"/>
<line x1="774.5" y1="840.98" x2="782.5" y2="840.98" stroke="#0000ff" stroke-width="2" stroke-linecap="butt"/>
<line x1="774.5" y1="808.25" x2="778.5" y2="808.25" stroke="#0000ff" stroke-width="2" stroke-linecap="butt"/>
<line x1="774.5" y1="775.51" x2="782.5" y2="775.51" stroke="#0000ff" stroke-width="2" stroke-linecap="butt"/>
<line x1="774.5" y1="742.78" x2="778.5" y2="742.78" stroke="#0000ff" stroke-width="2" stroke-linecap="butt"/>
<line x1="774.5" y1="710.04" x2="782.5" y2="710.04" stroke="#0000ff" stroke-width="2" stroke-linecap="butt"/>
<line x1="774.5" y1="677.31" x2="778.5" y2="677.31" stroke="#0000ff" stroke-width="2" stroke-linecap="butt"/>
<line x1="774.5" y1="644.57" x2="782.5" y2="644.57" stroke="#0000ff" stroke-width="2" stroke-linecap="butt"/>
<line x1="774.5" y1="611.84" x2="778.5" y2="611.84" stroke="#0000ff" stroke-width="2" stroke-linecap="butt"/>
<line x1="774.5" y1="579.1" x2="782.5" y2="579.1" stroke="#0000ff" stroke-width="2" stroke-linecap="butt"/>
<text x="788.5" y="977.52" font-size="17.5" fill="#0000ff" font-weight="normal" font-style="normal" text-anchor="start" stroke="#0000ff" stroke-width="0.3">-1</text>
<text x="788.5" y="912.05" font-size="17.5" fill="#0000ff" font-weight="normal" font-style="normal" text-anchor="start" stroke="#0000ff" stroke-width="0.3">0</text>
<text x="788.5" y="846.58" font-size="17.5" fill="#0000ff" font-weight="normal" font-style="normal" text-anchor="start" stroke="#0000ff" stroke-width="0.3">1</text>
<text x="788.5" y="781.11" font-size="17.5" fill="#0000ff" font-weight="normal" font-style="normal" text-anchor="start" stroke="#0000ff" stroke-width="0.3">2</text>
<text x="788.5" y="715.64" font-size="17.5" fill="#0000ff" font-weight="normal" font-style="normal" text-anchor="start" stroke="#0000ff" stroke-width="0.3">3</text>
<text x="788.5" y="650.17" font-size="17.5" fill="#0000ff" font-weight="normal" font-style="normal" text-anchor="start" stroke="#0000ff" stroke-width="0.3">4</text>
<text x="788.5" y="584.7" font-size="17.5" fill="#0000ff" font-weight="normal" font-style="normal" text-anchor="start" stroke="#0000ff" stroke-width="0.3">5</text>
<text transform="translate(829.5,786.6) rotate(-90)" x="0" y="0" font-size="21" fill="#0000ff" font-weight="bold" text-anchor="middle" stroke="#0000ff" stroke-width="0.3">Strain(%)</text>
<text x="-2" y="588.1" font-size="31.5" fill="#000000" font-weight="normal" font-style="normal" text-anchor="start" letter-spacing="0.6" stroke="#000000" stroke-width="0.3">(c)</text>
<polyline points="103.3,784.9 124,784.9 130.7,622.5 286.7,622.5 292.9,784.9 400,784.9 405.6,622.5 561.1,622.5 567.8,784.9 673.8,784.9" fill="none" stroke="#008000" stroke-width="2" stroke-linejoin="miter" stroke-miterlimit="10"/>
<path d="M102.2,603.5 L104.03,602.02 L105.89,600.61 L107.66,599.44 L109.5,598.41 L111.38,597.54 L113.32,596.79 L115.32,596.2 L117.61,595.64 L119.95,595.39 L122,596.13 L123.98,595.19 L125.87,594 L128.1,593.79 L130.5,594.4 L132.83,596.07 L134.25,597.1 L135.87,598.29 L137.56,599.54 L139.25,600.82 L140.91,602.1 L142.55,603.38 L144.17,604.67 L145.78,605.96 L147.39,607.25 L149,608.55 L150.61,609.86 L152.23,611.17 L153.86,612.48 L155.51,613.8 L157.17,615.13 L158.83,616.46 L160.48,617.8 L162.12,619.15 L163.74,620.51 L165.33,621.88 L166.89,623.24 L168.43,624.62 L169.96,626 L171.47,627.39 L172.98,628.78 L174.49,630.18 L175.99,631.59 L177.49,632.99 L179,634.4 L180.5,635.8 L182.01,637.21 L183.51,638.62 L185.02,640.04 L186.53,641.45 L188.03,642.87 L189.54,644.29 L191.05,645.71 L192.57,647.11 L194.1,648.5 L195.62,649.87 L197.15,651.22 L198.68,652.55 L200.21,653.86 L201.75,655.15 L203.29,656.44 L204.83,657.71 L206.39,658.99 L207.94,660.26 L209.49,661.53 L211.05,662.8 L212.6,664.07 L214.15,665.34 L215.69,666.62 L217.23,667.91 L218.77,669.21 L220.29,670.52 L221.82,671.84 L223.34,673.17 L224.85,674.5 L226.36,675.84 L227.86,677.19 L229.37,678.54 L230.87,679.89 L232.36,681.25 L233.86,682.6 L235.36,683.96 L236.85,685.31 L238.35,686.67 L239.85,688.02 L241.36,689.38 L242.86,690.73 L244.36,692.09 L245.87,693.44 L247.37,694.8 L248.87,696.15 L250.38,697.51 L251.88,698.86 L253.38,700.22 L254.89,701.58 L256.39,702.93 L257.89,704.29 L259.4,705.65 L260.9,707 L262.39,708.37 L263.89,709.73 L265.38,711.1 L266.88,712.47 L268.37,713.84 L269.86,715.21 L271.35,716.57 L272.85,717.94 L274.35,719.29 L275.86,720.64 L277.39,721.99 L278.93,723.33 L280.5,724.66 L282.12,725.99 L283.81,727.3 L285.58,728.55 L287.44,729.7 L289.37,730.72 L291.36,731.58 L293.37,732.26 L295.4,732.8 L297.44,733.22 L299.49,733.54 L301.56,733.78 L303.58,733.96 L305.45,734.07 L306.99,734.14 L310.99,733.86 L312.5,733.4 L314.18,732.57 L315.77,731.32 L317.15,729.75 L318.36,727.98 L319.44,726.16 L320.44,724.33 L321.38,722.51 L322.3,720.68 L323.2,718.85 L324.11,717.03 L325.04,715.21 L325.99,713.4 L326.97,711.6 L327.96,709.81 L328.95,708.02 L329.96,706.23 L330.97,704.45 L331.98,702.66 L333,700.88 L334.01,699.09 L335.01,697.31 L336.01,695.52 L337,693.72 L337.97,691.92 L338.94,690.11 L339.88,688.29 L340.82,686.47 L341.75,684.65 L342.66,682.82 L343.57,680.98 L344.48,679.15 L345.37,677.3 L346.26,675.46 L347.14,673.61 L348.02,671.76 L348.89,669.91 L349.76,668.06 L350.62,666.2 L351.48,664.34 L352.34,662.48 L353.19,660.62 L354.05,658.76 L354.89,656.9 L355.73,655.05 L356.56,653.19 L357.39,651.33 L358.21,649.47 L359.02,647.6 L359.83,645.74 L360.63,643.87 L361.43,642 L362.24,640.13 L363.03,638.26 L363.83,636.39 L364.63,634.52 L365.43,632.65 L366.24,630.79 L367.04,628.92 L367.85,627.06 L368.67,625.19 L369.48,623.34 L370.28,621.48 L371.08,619.63 L371.86,617.78 L372.65,615.94 L373.44,614.09 L374.26,612.26 L375.12,610.45 L376.02,608.65 L377,606.86 L378.08,605.09 L379.27,603.36 L380.6,601.73 L382.09,600.27 L383.74,599.01 L385.51,597.96 L387.37,597.12 L389.21,596.48 L390.86,596.04 L393.3,595.6 L395.67,595.48 L398.04,595.3 L400.36,594.65 L402.62,593.57 L405.03,593.57 L407.4,594.6 L409.6,596.21 L410.95,597.2 L412.5,598.33 L414.15,599.54 L415.82,600.77 L417.5,602.01 L419.18,603.25 L420.86,604.5 L422.53,605.75 L424.2,607.01 L425.88,608.29 L427.56,609.57 L429.23,610.87 L430.91,612.19 L432.57,613.52 L434.21,614.85 L435.83,616.21 L437.42,617.57 L438.98,618.94 L440.52,620.32 L442.05,621.71 L443.58,623.1 L445.11,624.49 L446.63,625.88 L448.17,627.27 L449.7,628.65 L451.23,630.03 L452.76,631.41 L454.3,632.79 L455.83,634.16 L457.37,635.53 L458.9,636.9 L460.43,638.27 L461.96,639.63 L463.49,641.01 L465.01,642.39 L466.53,643.77 L468.05,645.15 L469.57,646.53 L471.09,647.91 L472.61,649.29 L474.14,650.66 L475.67,652.03 L477.21,653.39 L478.74,654.77 L480.28,656.15 L481.81,657.56 L483.34,658.99 L484.87,660.44 L486.4,661.9 L487.93,663.36 L489.45,664.81 L490.98,666.24 L492.5,667.64 L494.02,669.02 L495.54,670.38 L497.07,671.74 L498.59,673.09 L500.12,674.43 L501.65,675.77 L503.19,677.12 L504.72,678.46 L506.25,679.81 L507.78,681.16 L509.32,682.53 L510.85,683.9 L512.4,685.28 L513.94,686.67 L515.48,688.06 L517.03,689.45 L518.57,690.84 L520.11,692.24 L521.66,693.63 L523.2,695.03 L524.74,696.42 L526.27,697.8 L527.8,699.18 L529.32,700.54 L530.83,701.9 L532.33,703.24 L533.83,704.58 L535.32,705.91 L536.82,707.25 L538.31,708.58 L539.81,709.92 L541.3,711.26 L542.79,712.6 L544.28,713.94 L545.77,715.29 L547.24,716.65 L548.7,718.03 L550.15,719.42 L551.59,720.83 L553.02,722.24 L554.46,723.64 L555.93,725.01 L557.45,726.33 L559.05,727.58 L560.75,728.73 L562.57,729.77 L564.49,730.67 L566.49,731.43 L568.54,732.06 L570.63,732.58 L572.73,732.99 L574.85,733.32 L576.96,733.56 L579.05,733.72 L581.14,733.8 L583.19,733.82 L585.18,733.81 L586.99,733.77 L588.48,733.74 L592.31,732.47 L593.61,731.28 L595,729.73 L596.29,727.97 L597.47,726.14 L598.58,724.29 L599.62,722.45 L600.63,720.6 L601.62,718.75 L602.59,716.88 L603.55,715.02 L604.51,713.16 L605.45,711.33 L606.39,709.51 L607.32,707.7 L608.25,705.9 L609.17,704.1 L610.09,702.3 L611.01,700.49 L611.92,698.68 L612.83,696.87 L613.73,695.06 L614.63,693.25 L615.52,691.43 L616.41,689.61 L617.29,687.78 L618.16,685.96 L619.03,684.13 L619.89,682.29 L620.75,680.46 L621.6,678.61 L622.44,676.77 L623.27,674.92 L624.1,673.07 L624.93,671.22 L625.75,669.36 L626.56,667.5 L627.37,665.64 L628.17,663.78 L628.98,661.92 L629.77,660.05 L630.57,658.18 L631.36,656.32 L632.15,654.45 L632.94,652.58 L633.72,650.71 L634.5,648.84 L635.28,646.97 L636.04,645.1 L636.8,643.22 L637.55,641.35 L638.29,639.47 L639.03,637.59 L639.76,635.71 L640.49,633.82 L641.22,631.94 L641.95,630.05 L642.67,628.17 L643.4,626.29 L644.14,624.4 L644.88,622.53 L645.63,620.65 L646.38,618.78 L647.15,616.91 L647.92,615.04 L648.71,613.18 L649.51,611.33 L650.34,609.47 L651.21,607.62 L652.17,605.76 L653.28,603.9 L654.59,602.1 L656.13,600.49 L657.88,599.16 L659.78,598.11 L661.78,597.29 L663.81,596.62 L665.83,596.08 L667.81,595.65 L669.7,595.32 L671.37,595.05 L673.8,594.7" fill="none" stroke="#ff0000" stroke-width="2.2" stroke-linejoin="round" stroke-linecap="butt"/>
<path d="M103.3,899.3 L105.47,898.68 L107.33,898.15 L109.33,897.59 L111.34,897.01 L113.35,896.44 L115.36,895.87 L117.37,895.3 L119.37,894.73 L121.33,894.17 L123.01,893.69 L124.43,891.91 L124.47,890.24 L124.51,888.28 L124.55,886.28 L124.6,884.27 L124.64,882.26 L124.69,880.26 L124.73,878.25 L124.77,876.24 L124.82,874.24 L124.86,872.23 L124.91,870.22 L124.95,868.22 L125,866.21 L125.04,864.21 L125.08,862.2 L125.13,860.19 L125.17,858.19 L125.22,856.18 L125.26,854.17 L125.3,852.17 L125.35,850.16 L125.39,848.15 L125.44,846.15 L125.48,844.14 L125.52,842.13 L125.57,840.13 L125.61,838.12 L125.66,836.11 L125.7,834.11 L125.74,832.1 L125.79,830.09 L125.83,828.09 L125.88,826.08 L125.92,824.07 L125.96,822.07 L126.01,820.06 L126.05,818.06 L126.1,816.05 L126.14,814.04 L126.19,812.04 L126.23,810.03 L126.27,808.02 L126.32,806.02 L126.36,804.01 L126.41,802 L126.45,800 L126.49,797.99 L126.54,795.98 L126.58,793.98 L126.63,791.97 L126.67,789.96 L126.71,787.96 L126.76,785.95 L126.8,783.94 L126.85,781.94 L126.89,779.93 L126.93,777.92 L126.98,775.92 L127.02,773.91 L127.07,771.9 L127.11,769.9 L127.16,767.89 L127.2,765.89 L127.24,763.88 L127.29,761.87 L127.33,759.87 L127.38,757.86 L127.42,755.85 L127.46,753.85 L127.51,751.84 L127.55,749.83 L127.6,747.83 L127.64,745.82 L127.68,743.81 L127.73,741.81 L127.77,739.8 L127.82,737.79 L127.86,735.79 L127.9,733.78 L127.95,731.77 L127.99,729.77 L128.04,727.76 L128.08,725.75 L128.12,723.75 L128.17,721.74 L128.21,719.74 L128.26,717.73 L128.3,715.72 L128.35,713.72 L128.39,711.71 L128.43,709.7 L128.48,707.7 L128.52,705.69 L128.57,703.68 L128.61,701.68 L128.65,699.67 L128.7,697.66 L128.74,695.66 L128.79,693.65 L128.83,691.64 L128.87,689.64 L128.92,687.63 L128.96,685.62 L129.01,683.62 L129.05,681.61 L129.09,679.6 L129.14,677.6 L129.18,675.59 L129.23,673.58 L129.27,671.58 L129.32,669.57 L129.36,667.57 L129.4,665.56 L129.45,663.55 L129.49,661.55 L129.54,659.54 L129.58,657.53 L129.62,655.53 L129.67,653.52 L129.71,651.53 L129.75,649.66 L129.8,647.5 L131.96,647.43 L133.81,647.36 L135.8,647.29 L137.8,647.21 L139.8,647.13 L141.8,647.05 L143.8,646.97 L145.8,646.9 L147.8,646.83 L149.8,646.77 L151.8,646.71 L153.8,646.67 L155.8,646.63 L157.8,646.61 L159.82,646.6 L161.84,646.61 L163.87,646.63 L165.89,646.65 L167.92,646.69 L169.95,646.73 L171.97,646.78 L174,646.84 L176.03,646.9 L178.05,646.96 L180.08,647.03 L182.11,647.09 L184.13,647.15 L186.16,647.21 L188.21,647.27 L190.31,647.32 L192.45,647.35 L194.6,647.39 L196.76,647.45 L198.9,647.55 L201,647.69 L203.06,647.87 L205.1,648.06 L207.13,648.28 L209.17,648.51 L211.2,648.77 L213.23,649.05 L215.25,649.35 L217.28,649.68 L219.3,650.03 L221.33,650.42 L223.37,650.83 L225.41,651.29 L227.45,651.77 L229.48,652.27 L231.5,652.79 L233.52,653.32 L235.55,653.86 L237.57,654.4 L239.57,654.93 L241.55,655.46 L243.5,655.98 L245.44,656.52 L247.37,657.06 L249.3,657.61 L251.23,658.16 L253.16,658.7 L255.09,659.24 L257.02,659.77 L258.96,660.29 L260.9,660.78 L262.85,661.25 L264.81,661.68 L266.78,662.09 L268.75,662.47 L270.72,662.85 L272.69,663.23 L274.66,663.62 L276.62,664.03 L278.57,664.48 L280.51,664.97 L282.44,665.51 L284.38,666.15 L286.35,666.94 L288.36,667.88 L290.37,668.85 L292.38,669.7 L294.38,670.4 L296.39,670.94 L298.42,671.37 L300.44,671.74 L302.47,672.07 L304.51,672.35 L306.55,672.59 L308.6,672.77 L310.65,672.91 L312.7,672.99 L314.75,673.01 L316.82,672.95 L318.92,672.79 L321.01,672.54 L323.11,672.19 L325.2,671.79 L327.28,671.35 L329.37,670.92 L331.44,670.5 L333.47,670.09 L335.48,669.65 L337.46,669.18 L339.45,668.68 L341.43,668.21 L343.42,667.8 L345.41,667.49 L347.4,667.32 L349.4,667.33 L351.41,667.56 L353.38,668.03 L355.27,668.78 L356.99,669.82 L358.45,671.15 L359.64,672.74 L360.6,674.51 L361.38,676.4 L362.07,678.34 L362.69,680.3 L363.26,682.28 L363.78,684.28 L364.24,686.3 L364.65,688.33 L365.02,690.38 L365.35,692.43 L365.64,694.48 L365.92,696.55 L366.17,698.61 L366.42,700.68 L366.66,702.73 L366.89,704.78 L367.12,706.8 L367.32,708.81 L367.51,710.81 L367.68,712.82 L367.83,714.83 L367.97,716.84 L368.09,718.85 L368.2,720.87 L368.31,722.88 L368.41,724.89 L368.5,726.91 L368.59,728.92 L368.68,730.94 L368.77,732.95 L368.86,734.97 L368.95,736.98 L369.05,738.99 L369.15,741 L369.25,743 L369.34,745 L369.43,747 L369.51,749 L369.59,751 L369.67,753 L369.74,755 L369.82,757 L369.9,759 L369.98,761 L370.07,763 L370.15,765 L370.25,767 L370.35,769 L370.46,771.01 L370.57,773.03 L370.68,775.05 L370.79,777.07 L370.91,779.09 L371.03,781.11 L371.15,783.13 L371.27,785.14 L371.4,787.16 L371.52,789.18 L371.65,791.2 L371.78,793.22 L371.92,795.24 L372.05,797.25 L372.19,799.27 L372.33,801.29 L372.47,803.31 L372.62,805.32 L372.76,807.34 L372.91,809.36 L373.07,811.37 L373.22,813.39 L373.38,815.4 L373.53,817.4 L373.69,819.4 L373.84,821.4 L373.99,823.4 L374.14,825.39 L374.29,827.39 L374.45,829.39 L374.6,831.39 L374.76,833.39 L374.92,835.39 L375.08,837.39 L375.25,839.39 L375.42,841.38 L375.6,843.38 L375.79,845.38 L375.98,847.37 L376.17,849.37 L376.38,851.36 L376.59,853.35 L376.82,855.34 L377.05,857.33 L377.29,859.32 L377.54,861.32 L377.79,863.33 L378.04,865.38 L378.25,867.46 L378.45,869.55 L378.64,871.64 L378.85,873.74 L379.09,875.82 L379.39,877.89 L379.75,879.94 L380.2,881.96 L380.77,883.94 L381.46,885.88 L382.33,887.76 L383.42,889.56 L384.72,891.24 L386.18,892.83 L387.68,894.33 L388.96,895.62 L391.38,896.23 L393.05,895.66 L395,895 L396.95,894.34 L398.62,893.77 L400.03,891.91 L400.06,890.24 L400.1,888.28 L400.14,886.28 L400.18,884.27 L400.22,882.26 L400.27,880.26 L400.31,878.25 L400.35,876.24 L400.39,874.24 L400.43,872.23 L400.47,870.22 L400.51,868.22 L400.55,866.21 L400.59,864.21 L400.63,862.2 L400.67,860.19 L400.71,858.19 L400.76,856.18 L400.8,854.17 L400.84,852.17 L400.88,850.16 L400.92,848.15 L400.96,846.15 L401,844.14 L401.04,842.13 L401.08,840.13 L401.12,838.12 L401.16,836.11 L401.2,834.11 L401.24,832.1 L401.29,830.09 L401.33,828.09 L401.37,826.08 L401.41,824.07 L401.45,822.07 L401.49,820.06 L401.53,818.06 L401.57,816.05 L401.61,814.04 L401.65,812.04 L401.69,810.03 L401.73,808.02 L401.78,806.02 L401.82,804.01 L401.86,802 L401.9,800 L401.94,797.99 L401.98,795.98 L402.02,793.98 L402.06,791.97 L402.1,789.96 L402.14,787.96 L402.18,785.95 L402.22,783.94 L402.27,781.94 L402.31,779.93 L402.35,777.92 L402.39,775.92 L402.43,773.91 L402.47,771.9 L402.51,769.9 L402.55,767.89 L402.59,765.89 L402.63,763.88 L402.67,761.87 L402.71,759.87 L402.76,757.86 L402.8,755.85 L402.84,753.85 L402.88,751.84 L402.92,749.83 L402.96,747.83 L403,745.82 L403.04,743.81 L403.08,741.81 L403.12,739.8 L403.16,737.79 L403.2,735.79 L403.24,733.78 L403.29,731.77 L403.33,729.77 L403.37,727.76 L403.41,725.75 L403.45,723.75 L403.49,721.74 L403.53,719.74 L403.57,717.73 L403.61,715.72 L403.65,713.72 L403.69,711.71 L403.73,709.7 L403.78,707.7 L403.82,705.69 L403.86,703.68 L403.9,701.68 L403.94,699.67 L403.98,697.66 L404.02,695.66 L404.06,693.65 L404.1,691.64 L404.14,689.64 L404.18,687.63 L404.22,685.62 L404.27,683.62 L404.31,681.61 L404.35,679.6 L404.39,677.6 L404.43,675.59 L404.47,673.58 L404.51,671.58 L404.55,669.57 L404.59,667.57 L404.63,665.56 L404.67,663.55 L404.71,661.55 L404.76,659.54 L404.8,657.53 L404.84,655.53 L404.88,653.52 L404.92,651.53 L404.96,649.66 L405,647.5 L407.24,647.22 L409.18,646.98 L411.24,646.72 L413.33,646.48 L415.41,646.28 L417.48,646.12 L419.54,646.01 L421.58,645.93 L423.63,645.88 L425.67,645.85 L427.72,645.83 L429.76,645.83 L431.81,645.84 L433.85,645.87 L435.9,645.9 L437.94,645.94 L439.99,645.98 L442.03,646.03 L444.08,646.08 L446.12,646.13 L448.16,646.18 L450.2,646.24 L452.23,646.3 L454.27,646.38 L456.31,646.46 L458.35,646.54 L460.38,646.64 L462.42,646.73 L464.46,646.84 L466.49,646.95 L468.53,647.06 L470.57,647.18 L472.64,647.3 L474.74,647.41 L476.86,647.53 L478.99,647.65 L481.11,647.8 L483.23,648 L485.32,648.27 L487.36,648.62 L489.34,649.04 L491.29,649.53 L493.23,650.06 L495.17,650.61 L497.1,651.17 L499.06,651.73 L501.06,652.28 L503.1,652.83 L505.17,653.38 L507.22,653.94 L509.25,654.49 L511.22,655.03 L513.15,655.58 L515.08,656.13 L517.01,656.68 L518.93,657.22 L520.86,657.77 L522.79,658.3 L524.72,658.82 L526.67,659.31 L528.63,659.8 L530.64,660.26 L532.67,660.71 L534.7,661.14 L536.74,661.55 L538.79,661.96 L540.83,662.35 L542.88,662.74 L544.93,663.12 L546.98,663.5 L549.05,663.85 L551.14,664.16 L553.24,664.44 L555.34,664.73 L557.42,665.09 L559.47,665.58 L561.48,666.28 L563.44,667.25 L565.37,668.35 L567.35,669.32 L569.42,670.05 L571.56,670.55 L573.72,670.93 L575.88,671.25 L578,671.56 L580.07,671.88 L582.13,672.19 L584.18,672.47 L586.24,672.69 L588.31,672.83 L590.38,672.86 L592.47,672.76 L594.57,672.51 L596.66,672.15 L598.75,671.71 L600.83,671.23 L602.91,670.76 L604.98,670.31 L607.03,669.87 L609.07,669.41 L611.1,668.94 L613.14,668.47 L615.17,668.01 L617.21,667.58 L619.25,667.22 L621.31,666.92 L623.39,666.71 L625.52,666.58 L627.69,666.58 L629.81,666.86 L631.77,667.55 L633.51,668.7 L635,670.21 L636.27,671.96 L637.35,673.84 L638.25,675.76 L639,677.71 L639.63,679.69 L640.15,681.71 L640.59,683.75 L640.95,685.82 L641.26,687.9 L641.53,689.99 L641.78,692.08 L642.02,694.17 L642.27,696.25 L642.53,698.3 L642.77,700.33 L643,702.36 L643.22,704.38 L643.41,706.41 L643.59,708.44 L643.76,710.47 L643.91,712.51 L644.05,714.54 L644.18,716.58 L644.3,718.61 L644.41,720.65 L644.52,722.69 L644.62,724.72 L644.72,726.76 L644.82,728.8 L644.92,730.84 L645.02,732.87 L645.13,734.91 L645.23,736.95 L645.34,738.98 L645.46,740.99 L645.57,743 L645.67,745 L645.77,747 L645.87,749 L645.96,751 L646.05,753 L646.14,755 L646.23,757 L646.32,759 L646.4,761 L646.49,763 L646.57,765 L646.66,767 L646.75,769 L646.85,771.01 L646.94,773.03 L647.02,775.05 L647.11,777.07 L647.19,779.08 L647.27,781.1 L647.35,783.12 L647.43,785.14 L647.51,787.16 L647.59,789.18 L647.67,791.2 L647.75,793.22 L647.83,795.24 L647.92,797.26 L648.02,799.27 L648.11,801.29 L648.22,803.31 L648.33,805.33 L648.44,807.34 L648.56,809.36 L648.69,811.38 L648.83,813.39 L648.98,815.42 L649.12,817.44 L649.28,819.47 L649.43,821.5 L649.59,823.52 L649.74,825.55 L649.91,827.58 L650.08,829.6 L650.25,831.63 L650.43,833.66 L650.61,835.68 L650.8,837.71 L651,839.73 L651.2,841.75 L651.41,843.77 L651.63,845.79 L651.86,847.81 L652.1,849.83 L652.35,851.85 L652.61,853.87 L652.88,855.88 L653.16,857.89 L653.43,859.91 L653.69,861.94 L653.92,863.97 L654.14,866.02 L654.36,868.06 L654.59,870.11 L654.84,872.15 L655.12,874.18 L655.45,876.2 L655.83,878.2 L656.28,880.17 L656.8,882.13 L657.42,884.05 L658.13,885.94 L658.96,887.82 L659.92,889.71 L661.04,891.55 L662.35,893.21 L663.9,894.49 L665.66,895.23 L667.55,895.31 L669.45,894.78 L671.32,893.87 L673.07,892.9 L675.1,891.8" fill="none" stroke="#0000ff" stroke-width="3.5" stroke-linejoin="round" stroke-linecap="butt"/>
<circle cx="103.3" cy="899.3" r="5.2" fill="#0000ff"/>
<circle cx="158.8" cy="646.6" r="5.2" fill="#0000ff"/>
<circle cx="316.8" cy="673" r="5.2" fill="#0000ff"/>
<circle cx="390" cy="896.7" r="5.2" fill="#0000ff"/>
<rect x="304.8" y="729.9" width="9" height="9" fill="#ff0000"/>
<rect x="388.8" y="591.1" width="9" height="9" fill="#ff0000"/>
<polygon points="235.6,615.9 237.34,619.8 241.59,620.25 238.42,623.11 239.3,627.3 235.6,625.16 231.9,627.3 232.78,623.11 229.61,620.25 233.86,619.8" fill="#008000"/>
<text x="108.1" y="928.9" font-size="19.5" fill="#0000ff" font-weight="bold" font-style="normal" text-anchor="middle" stroke="#0000ff" stroke-width="0.3">A</text>
<text x="165.6" y="671.1" font-size="20" fill="#0000ff" font-weight="normal" font-style="normal" text-anchor="middle" stroke="#0000ff" stroke-width="0.3">B</text>
<text x="319.8" y="696.2" font-size="20" fill="#0000ff" font-weight="normal" font-style="normal" text-anchor="middle" stroke="#0000ff" stroke-width="0.3">C</text>
<text x="397.3" y="928.9" font-size="20" fill="#0000ff" font-weight="normal" font-style="normal" text-anchor="middle" stroke="#0000ff" stroke-width="0.3">D</text>
<text transform="translate(205.86,610) scale(1,1.05)" x="0" y="0" font-size="21" fill="#008000" font-weight="normal" font-style="normal" text-anchor="start" stroke="#008000" stroke-width="0.3">0.7MPa</text>
<text transform="translate(307.11,603.8) scale(1,1.05)" x="0" y="0" font-size="21" fill="#ff0000" font-weight="normal" font-style="normal" text-anchor="start" stroke="#ff0000" stroke-width="0.3">190<tspan dy="1.68" stroke-width="0">&#176;</tspan><tspan dy="-1.68">C</tspan></text>
<text transform="translate(304.91,767.8) scale(1,1.05)" x="0" y="0" font-size="21" fill="#ff0000" font-weight="normal" font-style="normal" text-anchor="start" stroke="#ff0000" stroke-width="0.3">120<tspan dy="1.68" stroke-width="0">&#176;</tspan><tspan dy="-1.68">C</tspan></text>
<text transform="translate(524.76,608.9) scale(1,1.05)" x="0" y="0" font-size="21" fill="#ff0000" font-weight="normal" font-style="normal" text-anchor="start" stroke="#ff0000" stroke-width="0.3">5<tspan dy="1.68" stroke-width="0">&#176;</tspan><tspan dy="-1.68">C/min</tspan></text>
<line x1="576.7" y1="612.2" x2="621.18" y2="635.98" stroke="#ff0000" stroke-width="1.1" stroke-linecap="butt"/>
<polygon points="630,640.7 618.93,638.07 621.67,632.96" fill="#ff0000"/>
<text transform="translate(435.96,731.8) scale(1,1.05)" x="0" y="0" font-size="21" fill="#ff0000" font-weight="normal" font-style="normal" text-anchor="start" stroke="#ff0000" stroke-width="0.3">2<tspan dy="1.68" stroke-width="0">&#176;</tspan><tspan dy="-1.68">C/min</tspan></text>
<line x1="458.9" y1="712.2" x2="480" y2="680.98" stroke="#ff0000" stroke-width="1.1" stroke-linecap="butt"/>
<polygon points="485.6,672.7 481.84,683.44 477.04,680.19" fill="#ff0000"/>
<text transform="translate(165.31,755.6) scale(1,1.05)" x="0" y="0" font-size="21" fill="#000000" font-weight="normal" font-style="normal" text-anchor="start" stroke="#000000" stroke-width="0.3">1st Cycle</text>
<text transform="translate(166.26,782) scale(1,1.05)" x="0" y="0" font-size="21" fill="#000000" font-weight="normal" font-style="normal" text-anchor="start" stroke="#000000" stroke-width="0.3"><tspan font-style="italic">R</tspan><tspan font-style="italic" font-size="13.02" dy="7.14">f</tspan><tspan dy="-7.14">=89.9%</tspan></text>
<text transform="translate(165.86,814.4) scale(1,1.05)" x="0" y="0" font-size="21" fill="#000000" font-weight="normal" font-style="normal" text-anchor="start" stroke="#000000" stroke-width="0.3"><tspan font-style="italic">R</tspan><tspan font-style="italic" font-size="13.02" dy="7.14">r</tspan><tspan dy="-7.14">=99.8%</tspan></text>
<text transform="translate(452.56,767.8) scale(1,1.05)" x="0" y="0" font-size="21" fill="#000000" font-weight="normal" font-style="normal" text-anchor="start" stroke="#000000" stroke-width="0.3">2nd Cycle</text>
<text transform="translate(452.46,792.7) scale(1,1.05)" x="0" y="0" font-size="21" fill="#000000" font-weight="normal" font-style="normal" text-anchor="start" stroke="#000000" stroke-width="0.3"><tspan font-style="italic">R</tspan><tspan font-style="italic" font-size="13.02" dy="7.14">f</tspan><tspan dy="-7.14">=89.6%</tspan></text>
<text transform="translate(452.46,825.1) scale(1,1.05)" x="0" y="0" font-size="21" fill="#000000" font-weight="normal" font-style="normal" text-anchor="start" stroke="#000000" stroke-width="0.3"><tspan font-style="italic">R</tspan><tspan font-style="italic" font-size="13.02" dy="7.14">r</tspan><tspan dy="-7.14">=99.7%</tspan></text>
<line x1="171.1" y1="858.2" x2="217.8" y2="858.2" stroke="#ff0000" stroke-width="2" stroke-linecap="butt"/>
<line x1="171.1" y1="884" x2="217.8" y2="884" stroke="#008000" stroke-width="2" stroke-linecap="butt"/>
<line x1="171.1" y1="909.3" x2="217.8" y2="909.3" stroke="#0000ff" stroke-width="2.5" stroke-linecap="butt"/>
<text transform="translate(223.94,865.1) scale(1,1.05)" x="0" y="0" font-size="21" fill="#000000" font-weight="normal" font-style="normal" text-anchor="start" stroke="#000000" stroke-width="0.3">Temperature</text>
<text transform="translate(223.46,890.7) scale(1,1.05)" x="0" y="0" font-size="21" fill="#000000" font-weight="normal" font-style="normal" text-anchor="start" stroke="#000000" stroke-width="0.3">Stress</text>
<text transform="translate(223.46,916.2) scale(1,1.05)" x="0" y="0" font-size="21" fill="#000000" font-weight="normal" font-style="normal" text-anchor="start" stroke="#000000" stroke-width="0.3">Strain</text>
<line x1="943.2" y1="573.5" x2="1590.5" y2="573.5" stroke="#000000" stroke-width="2" stroke-linecap="square"/>
<line x1="943.2" y1="969.6" x2="1590.5" y2="969.6" stroke="#000000" stroke-width="2" stroke-linecap="square"/>
<line x1="958.8" y1="969.6" x2="958.8" y2="978.1" stroke="#000000" stroke-width="2" stroke-linecap="butt"/>
<line x1="1035.89" y1="969.6" x2="1035.89" y2="973.9" stroke="#000000" stroke-width="2" stroke-linecap="butt"/>
<line x1="1112.97" y1="969.6" x2="1112.97" y2="978.1" stroke="#000000" stroke-width="2" stroke-linecap="butt"/>
<line x1="1190.06" y1="969.6" x2="1190.06" y2="973.9" stroke="#000000" stroke-width="2" stroke-linecap="butt"/>
<line x1="1267.15" y1="969.6" x2="1267.15" y2="978.1" stroke="#000000" stroke-width="2" stroke-linecap="butt"/>
<line x1="1344.24" y1="969.6" x2="1344.24" y2="973.9" stroke="#000000" stroke-width="2" stroke-linecap="butt"/>
<line x1="1421.32" y1="969.6" x2="1421.32" y2="978.1" stroke="#000000" stroke-width="2" stroke-linecap="butt"/>
<line x1="1498.41" y1="969.6" x2="1498.41" y2="973.9" stroke="#000000" stroke-width="2" stroke-linecap="butt"/>
<line x1="1575.5" y1="969.6" x2="1575.5" y2="978.1" stroke="#000000" stroke-width="2" stroke-linecap="butt"/>
<text x="958.8" y="997.8" font-size="17.5" fill="#000000" font-weight="normal" font-style="normal" text-anchor="middle" stroke="#000000" stroke-width="0.3">0</text>
<text x="1112.97" y="997.8" font-size="17.5" fill="#000000" font-weight="normal" font-style="normal" text-anchor="middle" stroke="#000000" stroke-width="0.3">50</text>
<text x="1267.15" y="997.8" font-size="17.5" fill="#000000" font-weight="normal" font-style="normal" text-anchor="middle" stroke="#000000" stroke-width="0.3">100</text>
<text x="1421.32" y="997.8" font-size="17.5" fill="#000000" font-weight="normal" font-style="normal" text-anchor="middle" stroke="#000000" stroke-width="0.3">150</text>
<text x="1575.5" y="997.8" font-size="17.5" fill="#000000" font-weight="normal" font-style="normal" text-anchor="middle" stroke="#000000" stroke-width="0.3">200</text>
<text x="1267.05" y="1030.6" font-size="20.2" fill="#000000" font-weight="bold" font-style="normal" text-anchor="middle" stroke="#000000" stroke-width="0.3">Time (min)</text>
<line x1="943.2" y1="573.5" x2="943.2" y2="969.6" stroke="#ff0000" stroke-width="2" stroke-linecap="square"/>
<line x1="943.2" y1="969.6" x2="934.6" y2="969.6" stroke="#ff0000" stroke-width="2" stroke-linecap="butt"/>
<line x1="943.2" y1="920.09" x2="938.7" y2="920.09" stroke="#ff0000" stroke-width="2" stroke-linecap="butt"/>
<line x1="943.2" y1="870.58" x2="934.6" y2="870.58" stroke="#ff0000" stroke-width="2" stroke-linecap="butt"/>
<line x1="943.2" y1="821.06" x2="938.7" y2="821.06" stroke="#ff0000" stroke-width="2" stroke-linecap="butt"/>
<line x1="943.2" y1="771.55" x2="934.6" y2="771.55" stroke="#ff0000" stroke-width="2" stroke-linecap="butt"/>
<line x1="943.2" y1="722.04" x2="938.7" y2="722.04" stroke="#ff0000" stroke-width="2" stroke-linecap="butt"/>
<line x1="943.2" y1="672.53" x2="934.6" y2="672.53" stroke="#ff0000" stroke-width="2" stroke-linecap="butt"/>
<line x1="943.2" y1="623.01" x2="938.7" y2="623.01" stroke="#ff0000" stroke-width="2" stroke-linecap="butt"/>
<line x1="943.2" y1="573.5" x2="934.6" y2="573.5" stroke="#ff0000" stroke-width="2" stroke-linecap="butt"/>
<text x="928.6" y="974.8" font-size="17.5" fill="#ff0000" font-weight="normal" font-style="normal" text-anchor="end" stroke="#ff0000" stroke-width="0.3">0</text>
<text x="928.6" y="875.78" font-size="17.5" fill="#ff0000" font-weight="normal" font-style="normal" text-anchor="end" stroke="#ff0000" stroke-width="0.3">50</text>
<text x="928.6" y="776.75" font-size="17.5" fill="#ff0000" font-weight="normal" font-style="normal" text-anchor="end" stroke="#ff0000" stroke-width="0.3">100</text>
<text x="928.6" y="677.73" font-size="17.5" fill="#ff0000" font-weight="normal" font-style="normal" text-anchor="end" stroke="#ff0000" stroke-width="0.3">150</text>
<text x="928.6" y="578.7" font-size="17.5" fill="#ff0000" font-weight="normal" font-style="normal" text-anchor="end" stroke="#ff0000" stroke-width="0.3">200</text>
<text transform="translate(886.1,781.8) rotate(-90)" x="0" y="0" font-size="21" fill="#ff0000" font-weight="bold" text-anchor="middle" stroke="#ff0000" stroke-width="0.3">Temperature(<tspan dy="1.7">&#176;</tspan><tspan dy="-1.7">C)</tspan></text>
<line x1="1590.5" y1="573.5" x2="1590.5" y2="969.6" stroke="#008000" stroke-width="2" stroke-linecap="square"/>
<line x1="1590.5" y1="969.4" x2="1582.5" y2="969.4" stroke="#008000" stroke-width="2" stroke-linecap="butt"/>
<line x1="1590.5" y1="938.85" x2="1586.5" y2="938.85" stroke="#008000" stroke-width="2" stroke-linecap="butt"/>
<line x1="1590.5" y1="908.3" x2="1582.5" y2="908.3" stroke="#008000" stroke-width="2" stroke-linecap="butt"/>
<line x1="1590.5" y1="877.75" x2="1586.5" y2="877.75" stroke="#008000" stroke-width="2" stroke-linecap="butt"/>
<line x1="1590.5" y1="847.2" x2="1582.5" y2="847.2" stroke="#008000" stroke-width="2" stroke-linecap="butt"/>
<line x1="1590.5" y1="816.65" x2="1586.5" y2="816.65" stroke="#008000" stroke-width="2" stroke-linecap="butt"/>
<line x1="1590.5" y1="786.1" x2="1582.5" y2="786.1" stroke="#008000" stroke-width="2" stroke-linecap="butt"/>
<line x1="1590.5" y1="755.55" x2="1586.5" y2="755.55" stroke="#008000" stroke-width="2" stroke-linecap="butt"/>
<line x1="1590.5" y1="725" x2="1582.5" y2="725" stroke="#008000" stroke-width="2" stroke-linecap="butt"/>
<line x1="1590.5" y1="694.45" x2="1586.5" y2="694.45" stroke="#008000" stroke-width="2" stroke-linecap="butt"/>
<line x1="1590.5" y1="663.9" x2="1582.5" y2="663.9" stroke="#008000" stroke-width="2" stroke-linecap="butt"/>
<line x1="1590.5" y1="633.35" x2="1586.5" y2="633.35" stroke="#008000" stroke-width="2" stroke-linecap="butt"/>
<line x1="1590.5" y1="602.8" x2="1582.5" y2="602.8" stroke="#008000" stroke-width="2" stroke-linecap="butt"/>
<line x1="1590.5" y1="572.25" x2="1586.5" y2="572.25" stroke="#008000" stroke-width="2" stroke-linecap="butt"/>
<text x="1601.3" y="608.4" font-size="17.5" fill="#008000" font-weight="normal" font-style="normal" text-anchor="start" stroke="#008000" stroke-width="0.3">2.0</text>
<text x="1601.3" y="669.5" font-size="17.5" fill="#008000" font-weight="normal" font-style="normal" text-anchor="start" stroke="#008000" stroke-width="0.3">1.6</text>
<text x="1601.3" y="730.6" font-size="17.5" fill="#008000" font-weight="normal" font-style="normal" text-anchor="start" stroke="#008000" stroke-width="0.3">1.2</text>
<text x="1601.3" y="791.7" font-size="17.5" fill="#008000" font-weight="normal" font-style="normal" text-anchor="start" stroke="#008000" stroke-width="0.3">0.8</text>
<text x="1601.3" y="852.8" font-size="17.5" fill="#008000" font-weight="normal" font-style="normal" text-anchor="start" stroke="#008000" stroke-width="0.3">0.4</text>
<text x="1601.3" y="913.9" font-size="17.5" fill="#008000" font-weight="normal" font-style="normal" text-anchor="start" stroke="#008000" stroke-width="0.3">0.0</text>
<text x="1601.3" y="975" font-size="17.5" fill="#008000" font-weight="normal" font-style="normal" text-anchor="start" stroke="#008000" stroke-width="0.3">-0.4</text>
<text transform="translate(1574,776) rotate(-90)" x="0" y="0" font-size="21" fill="#008000" font-weight="bold" text-anchor="middle" stroke="#008000" stroke-width="0.3">Stress (MPa)</text>
<line x1="1643.8" y1="575.45" x2="1643.8" y2="972.35" stroke="#0000ff" stroke-width="2" stroke-linecap="square"/>
<line x1="1643.8" y1="972.35" x2="1647.8" y2="972.35" stroke="#0000ff" stroke-width="2" stroke-linecap="butt"/>
<line x1="1643.8" y1="944" x2="1651.8" y2="944" stroke="#0000ff" stroke-width="2" stroke-linecap="butt"/>
<line x1="1643.8" y1="915.65" x2="1647.8" y2="915.65" stroke="#0000ff" stroke-width="2" stroke-linecap="butt"/>
<line x1="1643.8" y1="887.3" x2="1651.8" y2="887.3" stroke="#0000ff" stroke-width="2" stroke-linecap="butt"/>
<line x1="1643.8" y1="858.95" x2="1647.8" y2="858.95" stroke="#0000ff" stroke-width="2" stroke-linecap="butt"/>
<line x1="1643.8" y1="830.6" x2="1651.8" y2="830.6" stroke="#0000ff" stroke-width="2" stroke-linecap="butt"/>
<line x1="1643.8" y1="802.25" x2="1647.8" y2="802.25" stroke="#0000ff" stroke-width="2" stroke-linecap="butt"/>
<line x1="1643.8" y1="773.9" x2="1651.8" y2="773.9" stroke="#0000ff" stroke-width="2" stroke-linecap="butt"/>
<line x1="1643.8" y1="745.55" x2="1647.8" y2="745.55" stroke="#0000ff" stroke-width="2" stroke-linecap="butt"/>
<line x1="1643.8" y1="717.2" x2="1651.8" y2="717.2" stroke="#0000ff" stroke-width="2" stroke-linecap="butt"/>
<line x1="1643.8" y1="688.85" x2="1647.8" y2="688.85" stroke="#0000ff" stroke-width="2" stroke-linecap="butt"/>
<line x1="1643.8" y1="660.5" x2="1651.8" y2="660.5" stroke="#0000ff" stroke-width="2" stroke-linecap="butt"/>
<line x1="1643.8" y1="632.15" x2="1647.8" y2="632.15" stroke="#0000ff" stroke-width="2" stroke-linecap="butt"/>
<line x1="1643.8" y1="603.8" x2="1651.8" y2="603.8" stroke="#0000ff" stroke-width="2" stroke-linecap="butt"/>
<line x1="1643.8" y1="575.45" x2="1647.8" y2="575.45" stroke="#0000ff" stroke-width="2" stroke-linecap="butt"/>
<text x="1658.7" y="949.6" font-size="17.5" fill="#0000ff" font-weight="normal" font-style="normal" text-anchor="start" stroke="#0000ff" stroke-width="0.3">0</text>
<text x="1658.7" y="892.9" font-size="17.5" fill="#0000ff" font-weight="normal" font-style="normal" text-anchor="start" stroke="#0000ff" stroke-width="0.3">2</text>
<text x="1658.7" y="836.2" font-size="17.5" fill="#0000ff" font-weight="normal" font-style="normal" text-anchor="start" stroke="#0000ff" stroke-width="0.3">4</text>
<text x="1658.7" y="779.5" font-size="17.5" fill="#0000ff" font-weight="normal" font-style="normal" text-anchor="start" stroke="#0000ff" stroke-width="0.3">6</text>
<text x="1658.7" y="722.8" font-size="17.5" fill="#0000ff" font-weight="normal" font-style="normal" text-anchor="start" stroke="#0000ff" stroke-width="0.3">8</text>
<text x="1658.7" y="666.1" font-size="17.5" fill="#0000ff" font-weight="normal" font-style="normal" text-anchor="start" stroke="#0000ff" stroke-width="0.3">10</text>
<text x="1658.7" y="609.4" font-size="17.5" fill="#0000ff" font-weight="normal" font-style="normal" text-anchor="start" stroke="#0000ff" stroke-width="0.3">12</text>
<text transform="translate(1703,785.5) rotate(-90)" x="0" y="0" font-size="21" fill="#0000ff" font-weight="bold" text-anchor="middle" stroke="#0000ff" stroke-width="0.3">Strain(%)</text>
<text x="861.8" y="584.6" font-size="31.5" fill="#000000" font-weight="normal" font-style="normal" text-anchor="start" letter-spacing="0.6" stroke="#000000" stroke-width="0.3">(d)</text>
<polyline points="958.9,908.4 967.8,908.4 975.6,729.4 1083.3,729.4 1091.1,908.4 1164.9,908.4 1173.3,729.4 1280.7,729.4 1288.9,908.4 1362.2,908.4 1375.6,657.9 1482.2,657.9 1492.2,908.4 1566.7,908.4 1567.3,890" fill="none" stroke="#008000" stroke-width="2" stroke-linejoin="miter" stroke-miterlimit="10"/>
<path d="M958.2,593.7 L960.46,592.93 L962.67,592.35 L964.83,592.04 L967.28,592.65 L968.85,590.55 L970.83,589.84 L973.21,591.37 L975.59,592.96 L978,594 L980,595.78 L981.34,597.02 L982.82,598.44 L984.31,599.94 L985.77,601.47 L987.18,603.02 L988.55,604.57 L989.9,606.11 L991.23,607.65 L992.54,609.19 L993.84,610.73 L995.12,612.29 L996.4,613.85 L997.66,615.43 L998.91,617.03 L1000.14,618.64 L1001.37,620.27 L1002.58,621.91 L1003.78,623.55 L1004.98,625.2 L1006.19,626.84 L1007.42,628.5 L1008.66,630.15 L1009.91,631.82 L1011.18,633.48 L1012.46,635.15 L1013.74,636.82 L1015.02,638.48 L1016.31,640.13 L1017.59,641.78 L1018.88,643.41 L1020.17,645.03 L1021.47,646.65 L1022.76,648.26 L1024.06,649.87 L1025.35,651.48 L1026.65,653.09 L1027.95,654.7 L1029.25,656.31 L1030.54,657.92 L1031.84,659.53 L1033.14,661.15 L1034.43,662.76 L1035.72,664.39 L1037,666.03 L1038.28,667.69 L1039.56,669.37 L1040.83,671.05 L1042.1,672.74 L1043.37,674.42 L1044.66,676.09 L1045.96,677.75 L1047.27,679.38 L1048.61,680.99 L1049.95,682.59 L1051.3,684.17 L1052.66,685.75 L1054.02,687.33 L1055.37,688.92 L1056.72,690.5 L1058.05,692.09 L1059.37,693.68 L1060.68,695.27 L1061.99,696.86 L1063.3,698.45 L1064.61,700.05 L1065.91,701.65 L1067.2,703.25 L1068.49,704.86 L1069.77,706.47 L1071.04,708.1 L1072.3,709.73 L1073.55,711.38 L1074.79,713.05 L1076,714.75 L1077.2,716.48 L1078.39,718.22 L1079.58,719.97 L1080.78,721.69 L1082.01,723.38 L1083.29,724.99 L1084.67,726.47 L1086.17,727.78 L1087.82,728.89 L1089.6,729.83 L1091.49,730.6 L1093.45,731.2 L1095.46,731.62 L1097.42,731.87 L1099.16,731.98 L1101.7,732 L1104.35,731.71 L1106.01,731.13 L1107.66,730.04 L1109.06,728.46 L1110.16,726.54 L1111.03,724.49 L1111.79,722.42 L1112.5,720.38 L1113.2,718.39 L1113.9,716.42 L1114.6,714.45 L1115.31,712.46 L1116.03,710.47 L1116.75,708.46 L1117.48,706.44 L1118.21,704.43 L1118.94,702.42 L1119.69,700.41 L1120.45,698.41 L1121.21,696.42 L1121.95,694.41 L1122.66,692.4 L1123.31,690.37 L1123.91,688.31 L1124.45,686.24 L1124.97,684.16 L1125.5,682.09 L1126.07,680.04 L1126.7,678 L1127.36,675.99 L1128.06,673.99 L1128.77,672.01 L1129.48,670.04 L1130.18,668.09 L1130.87,666.15 L1131.56,664.22 L1132.25,662.29 L1132.94,660.36 L1133.62,658.43 L1134.29,656.5 L1134.96,654.57 L1135.62,652.64 L1136.28,650.71 L1136.93,648.77 L1137.58,646.84 L1138.23,644.9 L1138.88,642.97 L1139.53,641.04 L1140.18,639.11 L1140.84,637.18 L1141.49,635.25 L1142.14,633.32 L1142.77,631.38 L1143.38,629.43 L1143.98,627.45 L1144.57,625.46 L1145.13,623.45 L1145.68,621.42 L1146.22,619.39 L1146.74,617.35 L1147.26,615.32 L1147.77,613.28 L1148.27,611.26 L1148.75,609.24 L1149.21,607.25 L1149.7,605.27 L1150.27,603.31 L1151,601.37 L1151.98,599.49 L1153.24,597.75 L1154.78,596.23 L1156.54,594.95 L1158.4,593.88 L1160.31,592.99 L1162.24,592.25 L1164.2,591.66 L1166.18,591.29 L1168.15,591.2 L1170.08,591.45 L1171.95,592.06 L1173.74,592.97 L1175.46,594.1 L1177.12,595.4 L1178.71,596.84 L1180.24,598.37 L1181.71,599.96 L1183.11,601.55 L1184.47,603.13 L1185.78,604.71 L1187.05,606.3 L1188.3,607.89 L1189.53,609.5 L1190.75,611.12 L1191.95,612.75 L1193.16,614.38 L1194.36,616.01 L1195.57,617.64 L1196.78,619.27 L1198,620.89 L1199.23,622.5 L1200.46,624.11 L1201.7,625.72 L1202.94,627.33 L1204.18,628.94 L1205.42,630.55 L1206.66,632.15 L1207.9,633.76 L1209.14,635.37 L1210.38,636.98 L1211.62,638.58 L1212.86,640.19 L1214.1,641.8 L1215.34,643.41 L1216.58,645.02 L1217.82,646.62 L1219.06,648.23 L1220.3,649.84 L1221.54,651.45 L1222.78,653.05 L1224.02,654.66 L1225.26,656.27 L1226.5,657.88 L1227.74,659.49 L1228.98,661.1 L1230.21,662.71 L1231.44,664.32 L1232.67,665.93 L1233.89,667.54 L1235.11,669.16 L1236.34,670.77 L1237.56,672.39 L1238.79,674 L1240.02,675.61 L1241.26,677.21 L1242.5,678.81 L1243.75,680.4 L1245.01,681.99 L1246.28,683.56 L1247.55,685.12 L1248.84,686.68 L1250.13,688.23 L1251.43,689.78 L1252.73,691.32 L1254.03,692.86 L1255.33,694.4 L1256.63,695.95 L1257.92,697.5 L1259.21,699.05 L1260.5,700.61 L1261.77,702.19 L1263.05,703.76 L1264.31,705.35 L1265.58,706.94 L1266.84,708.53 L1268.11,710.13 L1269.39,711.74 L1270.68,713.38 L1271.98,715.03 L1273.31,716.7 L1274.66,718.35 L1276.04,719.99 L1277.45,721.61 L1278.91,723.2 L1280.42,724.71 L1282.02,726.12 L1283.72,727.37 L1285.53,728.44 L1287.43,729.31 L1289.41,729.99 L1291.46,730.48 L1293.54,730.79 L1295.66,730.94 L1297.78,730.96 L1299.87,730.91 L1301.82,730.84 L1303.42,730.77 L1306.32,729 L1307.11,727.56 L1307.99,725.79 L1308.82,723.89 L1309.58,721.94 L1310.3,719.99 L1311.03,718.05 L1311.76,716.14 L1312.51,714.24 L1313.26,712.35 L1314.01,710.47 L1314.76,708.57 L1315.49,706.66 L1316.22,704.73 L1316.95,702.79 L1317.66,700.83 L1318.37,698.87 L1319.07,696.91 L1319.77,694.94 L1320.46,692.98 L1321.15,691.01 L1321.84,689.04 L1322.51,687.08 L1323.19,685.13 L1323.85,683.18 L1324.51,681.24 L1325.16,679.31 L1325.8,677.38 L1326.44,675.44 L1327.08,673.51 L1327.72,671.58 L1328.35,669.64 L1328.99,667.7 L1329.62,665.77 L1330.26,663.84 L1330.91,661.9 L1331.55,659.97 L1332.2,658.04 L1332.86,656.11 L1333.52,654.18 L1334.18,652.25 L1334.83,650.33 L1335.48,648.4 L1336.13,646.46 L1336.76,644.53 L1337.38,642.59 L1337.99,640.65 L1338.58,638.7 L1339.15,636.76 L1339.71,634.81 L1340.25,632.87 L1340.78,630.92 L1341.3,628.96 L1341.82,627.01 L1342.32,625.05 L1342.83,623.09 L1343.33,621.13 L1343.83,619.18 L1344.34,617.22 L1344.84,615.26 L1345.35,613.3 L1345.86,611.34 L1346.36,609.36 L1346.84,607.36 L1347.33,605.35 L1347.85,603.35 L1348.5,601.4 L1349.34,599.53 L1350.44,597.78 L1351.8,596.2 L1353.38,594.83 L1355.1,593.71 L1356.81,592.84 L1358.26,592.24 L1361.01,591.51 L1363.01,591.15 L1365.09,590.1 L1367.01,591.2 L1368.99,592.56 L1370.99,593.1 L1373.18,593.59 L1375.53,594.2 L1378.12,595.77 L1379.28,596.86 L1380.62,598.22 L1381.98,599.71 L1383.31,601.26 L1384.59,602.84 L1385.85,604.44 L1387.08,606.07 L1388.3,607.7 L1389.5,609.35 L1390.7,611 L1391.9,612.66 L1393.1,614.3 L1394.31,615.94 L1395.54,617.57 L1396.78,619.18 L1398.04,620.77 L1399.31,622.34 L1400.58,623.9 L1401.86,625.46 L1403.14,627.01 L1404.43,628.56 L1405.73,630.11 L1407.02,631.65 L1408.32,633.19 L1409.62,634.73 L1410.91,636.27 L1412.21,637.81 L1413.5,639.36 L1414.8,640.9 L1416.09,642.44 L1417.38,643.98 L1418.66,645.52 L1419.95,647.06 L1421.24,648.6 L1422.53,650.14 L1423.82,651.69 L1425.11,653.23 L1426.4,654.77 L1427.69,656.31 L1428.98,657.85 L1430.27,659.39 L1431.56,660.93 L1432.85,662.48 L1434.14,664.02 L1435.42,665.57 L1436.71,667.12 L1438,668.66 L1439.29,670.21 L1440.58,671.76 L1441.87,673.31 L1443.16,674.86 L1444.45,676.41 L1445.73,677.95 L1447.02,679.5 L1448.31,681.05 L1449.61,682.6 L1450.9,684.14 L1452.21,685.67 L1453.51,687.21 L1454.83,688.74 L1456.14,690.27 L1457.45,691.8 L1458.76,693.33 L1460.06,694.87 L1461.35,696.41 L1462.63,697.97 L1463.89,699.54 L1465.14,701.12 L1466.35,702.72 L1467.54,704.34 L1468.68,705.99 L1469.78,707.67 L1470.84,709.38 L1471.89,711.09 L1472.92,712.82 L1473.96,714.54 L1475.02,716.25 L1476.1,717.93 L1477.23,719.58 L1478.42,721.19 L1479.7,722.76 L1481.09,724.28 L1482.6,725.74 L1484.25,727.1 L1486.02,728.32 L1487.9,729.37 L1489.88,730.24 L1491.92,730.93 L1494.02,731.44 L1496.14,731.8 L1498.26,732.01 L1500.36,732.06 L1502.43,731.97 L1504.41,731.8 L1506.16,731.6 L1508.7,731.3 L1509.72,729.05 L1510.4,727.5 L1511.15,725.73 L1511.89,723.87 L1512.62,721.99 L1513.33,720.1 L1514.02,718.2 L1514.71,716.3 L1515.4,714.41 L1516.09,712.52 L1516.78,710.63 L1517.47,708.75 L1518.15,706.87 L1518.83,704.98 L1519.52,703.09 L1520.19,701.21 L1520.87,699.32 L1521.54,697.43 L1522.21,695.54 L1522.87,693.64 L1523.53,691.73 L1524.18,689.82 L1524.83,687.9 L1525.48,685.97 L1526.12,684.05 L1526.76,682.12 L1527.4,680.2 L1528.04,678.27 L1528.67,676.34 L1529.31,674.42 L1529.95,672.49 L1530.58,670.56 L1531.23,668.63 L1531.87,666.7 L1532.51,664.77 L1533.16,662.84 L1533.81,660.91 L1534.45,658.97 L1535.1,657.04 L1535.74,655.11 L1536.38,653.18 L1537.02,651.24 L1537.65,649.3 L1538.29,647.36 L1538.92,645.4 L1539.56,643.44 L1540.2,641.48 L1540.84,639.51 L1541.48,637.54 L1542.11,635.57 L1542.74,633.6 L1543.36,631.62 L1543.97,629.64 L1544.57,627.66 L1545.15,625.68 L1545.72,623.69 L1546.25,621.69 L1546.74,619.68 L1547.2,617.66 L1547.61,615.63 L1548.01,613.6 L1548.41,611.57 L1548.82,609.54 L1549.29,607.53 L1549.81,605.54 L1550.42,603.57 L1551.15,601.64 L1552.03,599.78 L1553.12,598.05 L1554.46,596.52 L1556.07,595.23 L1557.89,594.16 L1559.86,593.24 L1561.91,592.41 L1563.88,591.63 L1565.54,590.94 L1567.5,590" fill="none" stroke="#ff0000" stroke-width="2.2" stroke-linejoin="round" stroke-linecap="butt"/>
<path d="M958,938.5 L960.55,938.22 L962.72,937.91 L964.95,937.46 L966.85,936.96 L968.61,935.05 L968.87,933.3 L969.16,931.25 L969.44,929.16 L969.67,927.07 L969.85,925.02 L969.98,923.01 L970.08,921.01 L970.15,919.01 L970.2,917.01 L970.23,915.01 L970.25,913.01 L970.27,911.01 L970.28,909 L970.29,907 L970.31,905 L970.34,903 L970.38,901 L970.43,898.99 L970.49,896.98 L970.55,894.97 L970.62,892.96 L970.68,890.95 L970.74,888.94 L970.81,886.93 L970.87,884.92 L970.94,882.91 L971,880.9 L971.07,878.89 L971.14,876.88 L971.21,874.87 L971.28,872.86 L971.34,870.85 L971.41,868.84 L971.48,866.83 L971.56,864.82 L971.63,862.81 L971.7,860.8 L971.77,858.79 L971.84,856.78 L971.92,854.77 L971.99,852.76 L972.06,850.75 L972.14,848.74 L972.21,846.73 L972.29,844.72 L972.36,842.71 L972.44,840.7 L972.52,838.69 L972.59,836.68 L972.67,834.67 L972.74,832.66 L972.82,830.65 L972.9,828.64 L972.98,826.63 L973.05,824.62 L973.13,822.61 L973.21,820.6 L973.29,818.59 L973.36,816.58 L973.44,814.57 L973.52,812.57 L973.6,810.56 L973.68,808.55 L973.76,806.54 L973.83,804.53 L973.91,802.52 L973.99,800.51 L974.07,798.5 L974.15,796.49 L974.23,794.48 L974.3,792.47 L974.38,790.46 L974.46,788.45 L974.54,786.44 L974.61,784.43 L974.69,782.42 L974.77,780.41 L974.85,778.4 L974.92,776.39 L975,774.38 L975.07,772.37 L975.15,770.36 L975.23,768.35 L975.3,766.34 L975.38,764.33 L975.45,762.33 L975.52,760.47 L975.6,758.3 L977.67,757.62 L979.45,757.03 L981.36,756.41 L983.29,755.82 L985.24,755.28 L987.23,754.79 L989.25,754.35 L991.28,753.95 L993.33,753.58 L995.38,753.25 L997.43,752.93 L999.49,752.64 L1001.55,752.36 L1003.61,752.09 L1005.67,751.83 L1007.72,751.57 L1009.76,751.32 L1011.8,751.06 L1013.84,750.81 L1015.89,750.57 L1017.93,750.34 L1019.98,750.12 L1022.02,749.93 L1024.07,749.76 L1026.12,749.62 L1028.17,749.52 L1030.22,749.45 L1032.27,749.42 L1034.32,749.44 L1036.35,749.5 L1038.39,749.61 L1040.42,749.76 L1042.45,749.94 L1044.48,750.16 L1046.51,750.4 L1048.53,750.66 L1050.55,750.95 L1052.57,751.24 L1054.59,751.55 L1056.59,751.86 L1058.58,752.2 L1060.56,752.55 L1062.54,752.91 L1064.51,753.3 L1066.48,753.7 L1068.45,754.11 L1070.42,754.53 L1072.39,754.96 L1074.35,755.4 L1076.32,755.85 L1078.28,756.3 L1080.25,756.75 L1082.24,757.23 L1084.27,757.75 L1086.31,758.32 L1088.36,758.91 L1090.41,759.48 L1092.48,759.98 L1094.55,760.36 L1096.62,760.59 L1098.69,760.66 L1100.75,760.63 L1102.79,760.59 L1104.8,760.55 L1106.8,760.51 L1108.8,760.46 L1110.8,760.4 L1112.8,760.33 L1114.8,760.24 L1116.82,760.13 L1118.86,759.95 L1120.92,759.67 L1123.01,759.32 L1125.09,758.95 L1127.17,758.65 L1129.23,758.51 L1131.28,758.6 L1133.34,759.04 L1135.36,759.91 L1137.18,761.22 L1138.64,762.85 L1139.66,764.68 L1140.32,766.62 L1140.74,768.65 L1141.01,770.74 L1141.2,772.85 L1141.41,774.94 L1141.64,776.99 L1141.89,779.01 L1142.14,781.03 L1142.38,783.04 L1142.6,785.06 L1142.82,787.07 L1143.02,789.09 L1143.21,791.11 L1143.4,793.13 L1143.57,795.15 L1143.74,797.17 L1143.9,799.19 L1144.05,801.21 L1144.19,803.23 L1144.33,805.26 L1144.47,807.28 L1144.6,809.31 L1144.73,811.33 L1144.86,813.36 L1144.98,815.38 L1145.1,817.41 L1145.23,819.43 L1145.35,821.46 L1145.47,823.48 L1145.59,825.51 L1145.72,827.53 L1145.85,829.56 L1145.98,831.58 L1146.11,833.61 L1146.25,835.63 L1146.4,837.66 L1146.55,839.68 L1146.7,841.7 L1146.85,843.72 L1147.01,845.74 L1147.15,847.76 L1147.29,849.78 L1147.43,851.8 L1147.57,853.82 L1147.7,855.84 L1147.83,857.86 L1147.97,859.88 L1148.1,861.9 L1148.23,863.92 L1148.36,865.94 L1148.5,867.97 L1148.63,869.99 L1148.78,872.01 L1148.92,874.03 L1149.07,876.04 L1149.23,878.06 L1149.39,880.08 L1149.56,882.1 L1149.73,884.12 L1149.92,886.13 L1150.11,888.15 L1150.31,890.16 L1150.52,892.17 L1150.75,894.18 L1150.98,896.2 L1151.21,898.23 L1151.41,900.28 L1151.6,902.35 L1151.76,904.42 L1151.91,906.5 L1152.06,908.59 L1152.23,910.67 L1152.41,912.74 L1152.63,914.81 L1152.89,916.87 L1153.2,918.91 L1153.57,920.92 L1154.02,922.92 L1154.55,924.88 L1155.18,926.82 L1155.92,928.73 L1156.81,930.66 L1157.9,932.59 L1159.26,934.27 L1160.89,935.19 L1162.55,935.01 L1164.4,933.5 L1164.51,931.33 L1164.6,929.47 L1164.69,927.47 L1164.79,925.47 L1164.89,923.46 L1164.99,921.45 L1165.08,919.44 L1165.18,917.43 L1165.28,915.42 L1165.39,913.42 L1165.49,911.41 L1165.6,909.4 L1165.71,907.38 L1165.83,905.37 L1165.94,903.35 L1166.06,901.33 L1166.18,899.32 L1166.3,897.3 L1166.43,895.28 L1166.55,893.27 L1166.67,891.25 L1166.8,889.23 L1166.92,887.22 L1167.05,885.2 L1167.18,883.18 L1167.3,881.17 L1167.43,879.15 L1167.55,877.13 L1167.67,875.12 L1167.8,873.1 L1167.92,871.08 L1168.04,869.07 L1168.16,867.05 L1168.27,865.03 L1168.39,863.02 L1168.5,861.01 L1168.61,859 L1168.72,857 L1168.83,855 L1168.93,853 L1169.04,851 L1169.14,849 L1169.25,847 L1169.35,845 L1169.46,843 L1169.56,841 L1169.66,839 L1169.76,837 L1169.86,835 L1169.96,833 L1170.06,831 L1170.16,829 L1170.26,827 L1170.35,825 L1170.45,823 L1170.55,821 L1170.64,819 L1170.74,817 L1170.84,815 L1170.93,813 L1171.02,811 L1171.12,809 L1171.21,807 L1171.31,805 L1171.4,802.99 L1171.49,800.98 L1171.58,798.97 L1171.68,796.95 L1171.77,794.93 L1171.86,792.91 L1171.94,790.9 L1172.03,788.88 L1172.12,786.86 L1172.21,784.84 L1172.29,782.83 L1172.38,780.81 L1172.46,778.79 L1172.55,776.77 L1172.63,774.76 L1172.72,772.74 L1172.8,770.72 L1172.89,768.7 L1172.97,766.69 L1173.06,764.67 L1173.14,762.65 L1173.23,760.65 L1173.31,758.78 L1173.4,756.6 L1175.42,754.78 L1177.15,753.9 L1179.05,753.34 L1181.04,753.03 L1183.07,752.88 L1185.15,752.84 L1187.25,752.87 L1189.36,752.93 L1191.46,752.95 L1193.54,752.9 L1195.58,752.75 L1197.58,752.53 L1199.57,752.25 L1201.56,751.94 L1203.54,751.62 L1205.52,751.29 L1207.5,750.95 L1209.48,750.62 L1211.46,750.3 L1213.45,750 L1215.43,749.73 L1217.42,749.49 L1219.41,749.29 L1221.4,749.15 L1223.41,749.05 L1225.44,749.03 L1227.49,749.06 L1229.55,749.15 L1231.61,749.29 L1233.66,749.48 L1235.72,749.7 L1237.77,749.95 L1239.82,750.21 L1241.87,750.49 L1243.92,750.78 L1245.97,751.06 L1248.02,751.32 L1250.06,751.57 L1252.08,751.8 L1254.09,752.01 L1256.08,752.22 L1258.07,752.43 L1260.07,752.64 L1262.06,752.86 L1264.05,753.09 L1266.03,753.34 L1268.02,753.62 L1270.02,753.92 L1272.03,754.27 L1274.05,754.65 L1276.06,755.07 L1278.07,755.51 L1280.08,755.96 L1282.09,756.41 L1284.1,756.85 L1286.12,757.27 L1288.14,757.65 L1290.16,757.99 L1292.19,758.28 L1294.21,758.52 L1296.22,758.73 L1298.23,758.91 L1300.25,759.06 L1302.27,759.19 L1304.29,759.29 L1306.31,759.36 L1308.33,759.41 L1310.36,759.43 L1312.38,759.41 L1314.43,759.34 L1316.5,759.15 L1318.59,758.84 L1320.69,758.45 L1322.78,758.07 L1324.86,757.78 L1326.93,757.69 L1328.99,757.89 L1331.04,758.49 L1332.99,759.53 L1334.67,760.95 L1335.96,762.66 L1336.89,764.54 L1337.54,766.54 L1337.99,768.62 L1338.32,770.74 L1338.62,772.87 L1338.91,774.96 L1339.2,777 L1339.49,779.01 L1339.76,781.02 L1340.01,783.03 L1340.24,785.04 L1340.46,787.06 L1340.65,789.08 L1340.83,791.1 L1341,793.12 L1341.16,795.14 L1341.3,797.16 L1341.44,799.19 L1341.57,801.21 L1341.69,803.24 L1341.8,805.27 L1341.91,807.29 L1342.02,809.32 L1342.13,811.35 L1342.23,813.38 L1342.34,815.41 L1342.45,817.44 L1342.56,819.46 L1342.68,821.49 L1342.8,823.52 L1342.93,825.54 L1343.08,827.57 L1343.22,829.59 L1343.38,831.61 L1343.54,833.63 L1343.69,835.65 L1343.84,837.67 L1343.99,839.69 L1344.14,841.71 L1344.28,843.73 L1344.42,845.75 L1344.57,847.77 L1344.71,849.79 L1344.85,851.81 L1345,853.83 L1345.14,855.85 L1345.29,857.87 L1345.44,859.89 L1345.59,861.91 L1345.74,863.92 L1345.9,865.94 L1346.06,867.96 L1346.23,869.98 L1346.41,872 L1346.58,874.01 L1346.77,876.03 L1346.96,878.05 L1347.16,880.06 L1347.37,882.07 L1347.58,884.09 L1347.79,886.1 L1347.99,888.11 L1348.17,890.12 L1348.32,892.15 L1348.46,894.18 L1348.58,896.21 L1348.7,898.25 L1348.83,900.28 L1348.96,902.32 L1349.12,904.35 L1349.3,906.37 L1349.52,908.38 L1349.77,910.38 L1350.08,912.37 L1350.44,914.34 L1350.87,916.3 L1351.36,918.23 L1351.94,920.14 L1352.6,922.05 L1353.37,924.03 L1354.27,926.17 L1355.33,928.39 L1356.57,930.43 L1358.04,931.94 L1359.65,932.56 L1361.06,932 L1361.93,930.46 L1362.5,928 L1362.59,925.83 L1362.66,923.97 L1362.74,921.97 L1362.82,919.96 L1362.9,917.95 L1362.98,915.94 L1363.06,913.93 L1363.14,911.92 L1363.22,909.91 L1363.3,907.9 L1363.38,905.89 L1363.46,903.88 L1363.54,901.87 L1363.62,899.86 L1363.7,897.85 L1363.78,895.84 L1363.86,893.83 L1363.94,891.82 L1364.02,889.81 L1364.1,887.8 L1364.18,885.79 L1364.27,883.78 L1364.35,881.77 L1364.43,879.76 L1364.52,877.75 L1364.6,875.74 L1364.69,873.73 L1364.78,871.72 L1364.87,869.71 L1364.96,867.7 L1365.05,865.69 L1365.14,863.67 L1365.23,861.65 L1365.33,859.62 L1365.42,857.6 L1365.52,855.58 L1365.61,853.56 L1365.71,851.54 L1365.81,849.52 L1365.91,847.5 L1366,845.48 L1366.1,843.45 L1366.2,841.43 L1366.3,839.41 L1366.4,837.39 L1366.51,835.37 L1366.61,833.35 L1366.71,831.33 L1366.81,829.31 L1366.91,827.28 L1367.02,825.26 L1367.12,823.24 L1367.22,821.22 L1367.33,819.2 L1367.43,817.18 L1367.53,815.16 L1367.63,813.14 L1367.74,811.12 L1367.84,809.09 L1367.94,807.07 L1368.05,805.05 L1368.15,803.03 L1368.25,801.01 L1368.35,798.99 L1368.45,796.97 L1368.56,794.95 L1368.66,792.93 L1368.77,790.9 L1368.87,788.88 L1368.98,786.86 L1369.08,784.84 L1369.19,782.82 L1369.3,780.8 L1369.4,778.78 L1369.51,776.76 L1369.62,774.74 L1369.72,772.72 L1369.83,770.69 L1369.94,768.67 L1370.04,766.65 L1370.15,764.63 L1370.26,762.61 L1370.36,760.59 L1370.47,758.57 L1370.57,756.55 L1370.67,754.53 L1370.78,752.5 L1370.88,750.48 L1370.98,748.46 L1371.08,746.44 L1371.18,744.42 L1371.28,742.4 L1371.37,740.38 L1371.47,738.35 L1371.56,736.33 L1371.65,734.31 L1371.74,732.29 L1371.83,730.27 L1371.92,728.26 L1372,726.24 L1372.08,724.22 L1372.16,722.2 L1372.24,720.18 L1372.32,718.16 L1372.39,716.15 L1372.46,714.13 L1372.54,712.11 L1372.61,710.09 L1372.68,708.07 L1372.75,706.05 L1372.82,704.04 L1372.89,702.02 L1372.96,700 L1373.03,697.98 L1373.11,695.96 L1373.18,693.94 L1373.25,691.92 L1373.32,689.91 L1373.4,687.89 L1373.47,685.87 L1373.55,683.85 L1373.63,681.83 L1373.71,679.81 L1373.8,677.8 L1373.88,675.78 L1373.97,673.76 L1374.06,671.74 L1374.16,669.72 L1374.25,667.7 L1374.36,665.66 L1374.47,663.6 L1374.58,661.53 L1374.7,659.46 L1374.83,657.4 L1374.95,655.33 L1375.08,653.27 L1375.22,651.2 L1375.34,649.15 L1375.46,647.23 L1375.6,645 L1375.76,642.83 L1375.88,640.95 L1376.01,638.95 L1376.17,636.94 L1376.44,634.94 L1376.84,632.94 L1377.43,630.88 L1378.28,628.85 L1379.57,627.08 L1381.41,625.81 L1383.58,625.02 L1385.7,624.43 L1387.69,623.86 L1389.64,623.27 L1391.58,622.68 L1393.52,622.08 L1395.46,621.49 L1397.39,620.9 L1399.33,620.3 L1401.25,619.68 L1403.17,619.06 L1405.09,618.44 L1407.02,617.83 L1408.95,617.24 L1410.89,616.69 L1412.85,616.18 L1414.82,615.72 L1416.83,615.29 L1418.86,614.89 L1420.9,614.52 L1422.94,614.19 L1424.99,613.91 L1427.05,613.69 L1429.11,613.53 L1431.17,613.46 L1433.23,613.47 L1435.29,613.58 L1437.34,613.78 L1439.38,614.05 L1441.43,614.37 L1443.47,614.71 L1445.51,615.06 L1447.56,615.39 L1449.6,615.69 L1451.65,615.96 L1453.69,616.22 L1455.74,616.48 L1457.79,616.74 L1459.84,617 L1461.88,617.25 L1463.93,617.51 L1465.97,617.76 L1467.99,618 L1469.99,618.21 L1471.99,618.41 L1473.99,618.61 L1475.98,618.85 L1477.96,619.15 L1479.94,619.54 L1481.94,620.09 L1483.95,620.78 L1485.95,621.6 L1487.94,622.44 L1489.94,623.25 L1491.96,623.93 L1493.98,624.45 L1495.99,624.84 L1498,625.12 L1500.02,625.33 L1502.04,625.46 L1504.07,625.54 L1506.12,625.56 L1508.17,625.49 L1510.24,625.34 L1512.3,625.14 L1514.37,624.91 L1516.44,624.65 L1518.5,624.35 L1520.57,624.01 L1522.64,623.67 L1524.71,623.38 L1526.78,623.19 L1528.85,623.15 L1530.95,623.34 L1533.07,623.8 L1535.11,624.61 L1536.91,625.83 L1538.39,627.45 L1539.54,629.36 L1540.44,631.41 L1541.15,633.48 L1541.71,635.53 L1542.15,637.59 L1542.5,639.67 L1542.79,641.76 L1543.06,643.85 L1543.33,645.92 L1543.58,647.98 L1543.82,650.03 L1544.03,652.09 L1544.23,654.14 L1544.42,656.2 L1544.59,658.26 L1544.75,660.32 L1544.9,662.39 L1545.05,664.45 L1545.19,666.51 L1545.33,668.57 L1545.46,670.64 L1545.6,672.7 L1545.73,674.76 L1545.86,676.82 L1545.97,678.88 L1546.09,680.94 L1546.19,682.99 L1546.29,685.05 L1546.39,687.12 L1546.48,689.18 L1546.57,691.24 L1546.66,693.3 L1546.75,695.36 L1546.83,697.42 L1546.92,699.48 L1547.01,701.54 L1547.1,703.58 L1547.19,705.61 L1547.28,707.62 L1547.37,709.63 L1547.46,711.64 L1547.55,713.65 L1547.63,715.67 L1547.72,717.68 L1547.8,719.69 L1547.89,721.7 L1547.97,723.71 L1548.05,725.72 L1548.14,727.73 L1548.22,729.74 L1548.3,731.75 L1548.37,733.77 L1548.45,735.78 L1548.53,737.79 L1548.6,739.8 L1548.67,741.82 L1548.74,743.83 L1548.8,745.85 L1548.87,747.86 L1548.93,749.88 L1548.98,751.89 L1549.04,753.91 L1549.09,755.92 L1549.14,757.94 L1549.19,759.95 L1549.24,761.97 L1549.29,763.99 L1549.33,766 L1549.38,768.02 L1549.43,770.03 L1549.47,772.05 L1549.52,774.07 L1549.56,776.08 L1549.61,778.1 L1549.66,780.11 L1549.71,782.13 L1549.76,784.14 L1549.81,786.16 L1549.86,788.18 L1549.92,790.19 L1549.98,792.21 L1550.04,794.22 L1550.1,796.24 L1550.17,798.25 L1550.24,800.27 L1550.31,802.28 L1550.39,804.3 L1550.47,806.31 L1550.55,808.33 L1550.64,810.34 L1550.73,812.35 L1550.83,814.37 L1550.94,816.38 L1551.05,818.39 L1551.16,820.4 L1551.27,822.41 L1551.38,824.41 L1551.49,826.42 L1551.6,828.42 L1551.71,830.43 L1551.83,832.43 L1551.95,834.44 L1552.08,836.44 L1552.21,838.45 L1552.35,840.45 L1552.51,842.45 L1552.67,844.45 L1552.85,846.45 L1553.04,848.45 L1553.25,850.45 L1553.48,852.44 L1553.72,854.43 L1553.98,856.42 L1554.26,858.42 L1554.55,860.43 L1554.85,862.46 L1555.16,864.5 L1555.48,866.54 L1555.83,868.57 L1556.23,870.59 L1556.69,872.6 L1557.22,874.58 L1557.84,876.53 L1558.55,878.5 L1559.36,880.56 L1560.28,882.71 L1561.38,884.7 L1562.74,886.1 L1564.28,886.47 L1565.65,885.63 L1566.61,883.88 L1567.22,881.79 L1567.61,879.69 L1567.82,877.63 L1567.88,875.57 L1567.87,873.5 L1567.82,871.47 L1567.8,869.73 L1567.8,868.3" fill="none" stroke="#0000ff" stroke-width="3.5" stroke-linejoin="round" stroke-linecap="butt"/>
<circle cx="986.2" cy="755" r="5.2" fill="#0000ff"/>
<circle cx="1101.8" cy="760.6" r="5.2" fill="#0000ff"/>
<circle cx="1161.8" cy="936.1" r="5.2" fill="#0000ff"/>
<circle cx="1360.7" cy="933.2" r="4.2" fill="none" stroke="#0000ff" stroke-width="1.8"/>
<circle cx="1383.8" cy="625" r="4.2" fill="none" stroke="#0000ff" stroke-width="1.8"/>
<circle cx="1506.1" cy="625.6" r="4.2" fill="none" stroke="#0000ff" stroke-width="1.8"/>
<circle cx="1564.4" cy="887.2" r="4.2" fill="none" stroke="#0000ff" stroke-width="1.8"/>
<rect x="1097.3" y="727.6" width="9" height="9" fill="#ff0000"/>
<rect x="1157.7" y="587.6" width="9" height="9" fill="#ff0000"/>
<polygon points="1208.4,723.1 1210.14,727 1214.39,727.45 1211.22,730.31 1212.1,734.5 1208.4,732.36 1204.7,734.5 1205.58,730.31 1202.41,727.45 1206.66,727" fill="#008000"/>
<polygon points="1444.4,652 1446.14,655.9 1450.39,656.35 1447.22,659.21 1448.1,663.4 1444.4,661.26 1440.7,663.4 1441.58,659.21 1438.41,656.35 1442.66,655.9" fill="#008000"/>
<text x="962" y="961.7" font-size="20" fill="#0000ff" font-weight="normal" font-style="normal" text-anchor="middle" stroke="#0000ff" stroke-width="0.3">A</text>
<text x="997.8" y="782.3" font-size="20" fill="#0000ff" font-weight="normal" font-style="normal" text-anchor="middle" stroke="#0000ff" stroke-width="0.3">B</text>
<text x="1111.1" y="786.8" font-size="20" fill="#0000ff" font-weight="normal" font-style="normal" text-anchor="middle" stroke="#0000ff" stroke-width="0.3">C</text>
<text x="1172.9" y="939" font-size="20" fill="#0000ff" font-weight="normal" font-style="normal" text-anchor="start" stroke="#0000ff" stroke-width="0.3">D</text>
<text x="1376.2" y="935.4" font-size="20" fill="#0000ff" font-weight="normal" font-style="normal" text-anchor="start" stroke="#0000ff" stroke-width="0.3">E</text>
<text x="1365.1" y="625.4" font-size="20" fill="#0000ff" font-weight="normal" font-style="normal" text-anchor="start" stroke="#0000ff" stroke-width="0.3">F</text>
<text x="1510" y="610.6" font-size="20" fill="#0000ff" font-weight="normal" font-style="normal" text-anchor="middle" stroke="#0000ff" stroke-width="0.3">G</text>
<text x="1538.9" y="898.3" font-size="20" fill="#0000ff" font-weight="normal" font-style="normal" text-anchor="start" stroke="#0000ff" stroke-width="0.3">H</text>
<text transform="translate(1086.62,605) scale(1,1.05)" x="0" y="0" font-size="21" fill="#ff0000" font-weight="normal" font-style="normal" text-anchor="start" stroke="#ff0000" stroke-width="0.3">190<tspan dy="1.68" stroke-width="0">&#176;</tspan><tspan dy="-1.68">C</tspan></text>
<text transform="translate(1110.41,742.3) scale(1,1.05)" x="0" y="0" font-size="21" fill="#ff0000" font-weight="normal" font-style="normal" text-anchor="start" stroke="#ff0000" stroke-width="0.3">120<tspan dy="1.68" stroke-width="0">&#176;</tspan><tspan dy="-1.68">C</tspan></text>
<text transform="translate(1182.21,717.2) scale(1,1.05)" x="0" y="0" font-size="21" fill="#008000" font-weight="normal" font-style="normal" text-anchor="start" stroke="#008000" stroke-width="0.3">1.2MPa</text>
<text transform="translate(1251.36,618.3) scale(1,1.05)" x="0" y="0" font-size="21" fill="#ff0000" font-weight="normal" font-style="normal" text-anchor="start" stroke="#ff0000" stroke-width="0.3">5<tspan dy="1.68" stroke-width="0">&#176;</tspan><tspan dy="-1.68">C/min</tspan></text>
<line x1="1305.6" y1="626.1" x2="1318.74" y2="638.53" stroke="#ff0000" stroke-width="1.1" stroke-linecap="butt"/>
<polygon points="1326,645.4 1316.02,639.95 1320,635.73" fill="#ff0000"/>
<text transform="translate(1238.17,661) scale(1,1.05)" x="0" y="0" font-size="21" fill="#ff0000" font-weight="normal" font-style="normal" text-anchor="start" stroke="#ff0000" stroke-width="0.3">2<tspan dy="1.68" stroke-width="0">&#176;</tspan><tspan dy="-1.68">C/min</tspan></text>
<line x1="1280" y1="667.2" x2="1269.11" y2="682.46" stroke="#ff0000" stroke-width="1.1" stroke-linecap="butt"/>
<polygon points="1263.3,690.6 1267.33,679.96 1272.05,683.33" fill="#ff0000"/>
<text transform="translate(1426.01,648.3) scale(1,1.05)" x="0" y="0" font-size="21" fill="#008000" font-weight="normal" font-style="normal" text-anchor="start" stroke="#008000" stroke-width="0.3">1.65MPa</text>
<text transform="translate(983.82,820.6) scale(1,1.05)" x="0" y="0" font-size="21" fill="#000000" font-weight="normal" font-style="normal" text-anchor="start" stroke="#000000" stroke-width="0.3">1st Cycle</text>
<text transform="translate(984.76,846.6) scale(1,1.05)" x="0" y="0" font-size="21" fill="#000000" font-weight="normal" font-style="normal" text-anchor="start" stroke="#000000" stroke-width="0.3"><tspan font-style="italic">R</tspan><tspan font-style="italic" font-size="13.02" dy="7.14">f</tspan><tspan dy="-7.14">=97.2%</tspan></text>
<text transform="translate(984.76,879) scale(1,1.05)" x="0" y="0" font-size="21" fill="#000000" font-weight="normal" font-style="normal" text-anchor="start" stroke="#000000" stroke-width="0.3"><tspan font-style="italic">R</tspan><tspan font-style="italic" font-size="13.02" dy="7.14">r</tspan><tspan dy="-7.14">=98.4%</tspan></text>
<text transform="translate(1181.97,826.1) scale(1,1.05)" x="0" y="0" font-size="21" fill="#000000" font-weight="normal" font-style="normal" text-anchor="start" stroke="#000000" stroke-width="0.3">2nd Cycle</text>
<text transform="translate(1181.86,852.3) scale(1,1.05)" x="0" y="0" font-size="21" fill="#000000" font-weight="normal" font-style="normal" text-anchor="start" stroke="#000000" stroke-width="0.3"><tspan font-style="italic">R</tspan><tspan font-style="italic" font-size="13.02" dy="7.14">f</tspan><tspan dy="-7.14">=96.7%</tspan></text>
<text transform="translate(1181.86,885) scale(1,1.05)" x="0" y="0" font-size="21" fill="#000000" font-weight="normal" font-style="normal" text-anchor="start" stroke="#000000" stroke-width="0.3"><tspan font-style="italic">R</tspan><tspan font-style="italic" font-size="13.02" dy="7.14">r</tspan><tspan dy="-7.14">=98.9%</tspan></text>
<text transform="translate(1382.06,773.9) scale(1,1.05)" x="0" y="0" font-size="21" fill="#000000" font-weight="normal" font-style="normal" text-anchor="start" stroke="#000000" stroke-width="0.3"><tspan font-style="italic">R</tspan><tspan font-style="italic" font-size="13.02" dy="7.14">f</tspan><tspan dy="-7.14">=99.1%</tspan></text>
<text transform="translate(1382.06,806.6) scale(1,1.05)" x="0" y="0" font-size="21" fill="#000000" font-weight="normal" font-style="normal" text-anchor="start" stroke="#000000" stroke-width="0.3"><tspan font-style="italic">R</tspan><tspan font-style="italic" font-size="13.02" dy="7.14">r</tspan><tspan dy="-7.14">=85.1%</tspan></text>
<line x1="1019.6" y1="953.4" x2="1066.2" y2="953.4" stroke="#ff0000" stroke-width="2" stroke-linecap="butt"/>
<text transform="translate(1072.42,960.6) scale(1,1.05)" x="0" y="0" font-size="21.8" fill="#000000" font-weight="normal" font-style="normal" text-anchor="start" stroke="#000000" stroke-width="0.3">Temperature</text>
<text transform="translate(1201.41,960.6) scale(1,1.05)" x="0" y="0" font-size="21" fill="#000000" font-weight="normal" font-style="normal" text-anchor="start" stroke="#000000" stroke-width="0.3">;</text>
<line x1="1215.1" y1="953.4" x2="1261.8" y2="953.4" stroke="#008000" stroke-width="2" stroke-linecap="butt"/>
<text transform="translate(1266.91,960.6) scale(1,1.05)" x="0" y="0" font-size="21" fill="#000000" font-weight="normal" font-style="normal" text-anchor="start" stroke="#000000" stroke-width="0.3">stress;</text>
<line x1="1335.6" y1="953.4" x2="1382.2" y2="953.4" stroke="#0000ff" stroke-width="3.5" stroke-linecap="butt"/>
<text transform="translate(1388.31,960.6) scale(1,1.05)" x="0" y="0" font-size="21" fill="#000000" font-weight="normal" font-style="normal" text-anchor="start" stroke="#000000" stroke-width="0.3">strain</text>
</svg>
</body></html>
